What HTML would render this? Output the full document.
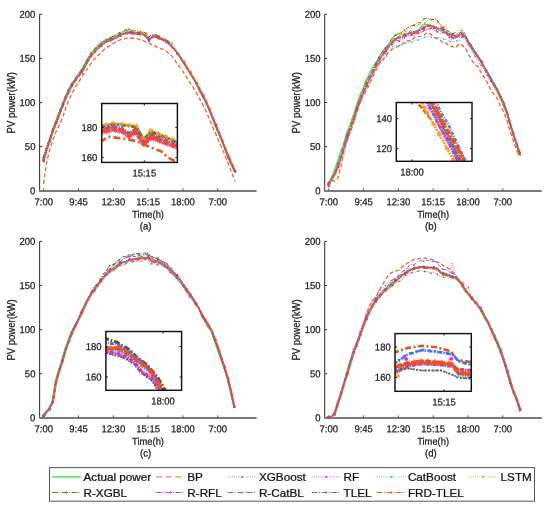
<!DOCTYPE html><html><head><meta charset="utf-8"><style>html,body{margin:0;padding:0;background:#fff;overflow:hidden;width:550px;height:508px;}svg{display:block;font-family:"Liberation Sans",sans-serif;}</style></head><body>
<svg width="550" height="508" viewBox="0 0 550 508" style="will-change:transform">
<rect width="550" height="508" fill="#fff"/>
<line x1="39.6" y1="14.3" x2="39.6" y2="190.8" stroke="#333" stroke-width="1.05"/>
<line x1="39.1" y1="190.9" x2="256.6" y2="190.9" stroke="#7a7a7a" stroke-width="2"/>
<text x="0" y="0" font-size="9.99" text-anchor="end" fill="#1a1a1a" stroke="#1a1a1a" stroke-width="0.25" transform="translate(35.40,194.25) scale(0.95,1) rotate(0.05)">0</text>
<line x1="39.6" y1="146.68" x2="42.0" y2="146.68" stroke="#333" stroke-width="1"/>
<text x="0" y="0" font-size="9.99" text-anchor="end" fill="#1a1a1a" stroke="#1a1a1a" stroke-width="0.25" transform="translate(35.40,150.12) scale(0.95,1) rotate(0.05)">50</text>
<line x1="39.6" y1="102.55" x2="42.0" y2="102.55" stroke="#333" stroke-width="1"/>
<text x="0" y="0" font-size="9.99" text-anchor="end" fill="#1a1a1a" stroke="#1a1a1a" stroke-width="0.25" transform="translate(35.40,106.00) scale(0.95,1) rotate(0.05)">100</text>
<line x1="39.6" y1="58.43" x2="42.0" y2="58.43" stroke="#333" stroke-width="1"/>
<text x="0" y="0" font-size="9.99" text-anchor="end" fill="#1a1a1a" stroke="#1a1a1a" stroke-width="0.25" transform="translate(35.40,61.88) scale(0.95,1) rotate(0.05)">150</text>
<line x1="39.6" y1="14.30" x2="42.0" y2="14.30" stroke="#333" stroke-width="1"/>
<text x="0" y="0" font-size="9.99" text-anchor="end" fill="#1a1a1a" stroke="#1a1a1a" stroke-width="0.25" transform="translate(35.40,17.75) scale(0.95,1) rotate(0.05)">200</text>
<line x1="43.70" y1="190.8" x2="43.70" y2="188.3" stroke="#555" stroke-width="1"/>
<text x="0" y="0" font-size="9.99" text-anchor="middle" fill="#1a1a1a" stroke="#1a1a1a" stroke-width="0.25" transform="translate(43.70,205.20) scale(0.95,1) rotate(0.05)">7:00</text>
<line x1="78.50" y1="190.8" x2="78.50" y2="188.3" stroke="#555" stroke-width="1"/>
<text x="0" y="0" font-size="9.99" text-anchor="middle" fill="#1a1a1a" stroke="#1a1a1a" stroke-width="0.25" transform="translate(78.50,205.20) scale(0.95,1) rotate(0.05)">9:45</text>
<line x1="113.30" y1="190.8" x2="113.30" y2="188.3" stroke="#555" stroke-width="1"/>
<text x="0" y="0" font-size="9.99" text-anchor="middle" fill="#1a1a1a" stroke="#1a1a1a" stroke-width="0.25" transform="translate(113.30,205.20) scale(0.95,1) rotate(0.05)">12:30</text>
<line x1="148.10" y1="190.8" x2="148.10" y2="188.3" stroke="#555" stroke-width="1"/>
<text x="0" y="0" font-size="9.99" text-anchor="middle" fill="#1a1a1a" stroke="#1a1a1a" stroke-width="0.25" transform="translate(148.10,205.20) scale(0.95,1) rotate(0.05)">15:15</text>
<line x1="182.90" y1="190.8" x2="182.90" y2="188.3" stroke="#555" stroke-width="1"/>
<text x="0" y="0" font-size="9.99" text-anchor="middle" fill="#1a1a1a" stroke="#1a1a1a" stroke-width="0.25" transform="translate(182.90,205.20) scale(0.95,1) rotate(0.05)">18:00</text>
<line x1="217.70" y1="190.8" x2="217.70" y2="188.3" stroke="#555" stroke-width="1"/>
<text x="0" y="0" font-size="9.99" text-anchor="middle" fill="#1a1a1a" stroke="#1a1a1a" stroke-width="0.25" transform="translate(217.70,205.20) scale(0.95,1) rotate(0.05)">7:00</text>
<text x="0" y="0" font-size="9.89" text-anchor="middle" fill="#1a1a1a" stroke="#1a1a1a" stroke-width="0.25" transform="translate(148.00,217.70) scale(0.95,1) rotate(0.05)">Time(h)</text>
<text x="0" y="0" font-size="10.09" text-anchor="middle" fill="#1a1a1a" stroke="#1a1a1a" stroke-width="0.25" transform="translate(145.70,229.50) scale(0.95,1) rotate(0.05)">(a)</text>
<text x="0" y="0" font-size="10.0" text-anchor="middle" fill="#1a1a1a" stroke="#1a1a1a" stroke-width="0.25" transform="translate(14.6,102.8) rotate(-90) scale(0.95,1)">PV power(kW)</text>
<polyline points="42.80,160.99 45.99,150.19 49.18,140.08 52.38,129.82 55.57,122.19 58.76,113.68 61.95,105.71 65.14,98.35 68.33,89.60 71.52,83.49 74.72,79.79 77.91,75.56 81.10,71.38 84.29,64.78 87.48,59.07 90.67,54.92 93.87,49.59 97.06,46.88 100.25,42.94 103.44,41.01 106.63,38.90 109.83,38.64 113.02,36.53 116.21,36.06 119.40,34.50 122.59,33.09 125.78,30.38 128.98,31.22 132.17,31.81 135.36,32.63 138.55,32.73 141.74,32.50 144.93,34.64 148.12,38.77 151.32,36.88 154.51,35.18 157.70,36.88 160.89,38.95 164.08,39.59 167.28,42.05 170.47,44.92 173.66,48.69 176.85,52.19 180.04,57.56 183.23,63.23 186.43,66.22 189.62,73.11 192.81,78.03 196.00,83.17 199.19,90.91 202.38,96.24 205.58,101.50 208.77,109.62 211.96,117.57 215.15,124.73 218.34,133.22 221.53,140.70 224.73,149.37 227.92,158.28 231.11,164.54 234.30,171.64" fill="none" stroke="#4ce64c" stroke-width="1.3" stroke-linejoin="round"/>
<polyline points="43.50,183.81 46.69,162.09 49.88,149.65 53.08,139.66 56.27,131.15 59.46,124.73 62.65,117.46 65.84,107.59 69.03,99.42 72.22,93.50 75.42,86.81 78.61,82.13 81.80,76.97 84.99,72.40 88.18,67.50 91.38,62.88 94.57,59.01 97.76,55.62 100.95,53.19 104.14,49.57 107.33,47.17 110.53,45.22 113.72,43.02 116.91,41.33 120.10,39.76 123.29,39.12 126.48,38.08 129.68,38.28 132.87,38.20 136.06,38.45 139.25,39.46 142.44,40.00 145.63,42.05 148.82,43.19 152.02,44.99 155.21,45.86 158.40,48.14 161.59,48.82 164.78,50.21 167.98,52.84 171.17,55.31 174.36,59.17 177.55,64.59 180.74,68.14 183.93,72.99 187.12,78.18 190.32,83.24 193.51,87.96 196.70,93.22 199.89,99.34 203.08,105.48 206.28,111.61 209.47,119.43 212.66,127.15 215.85,134.13 219.04,141.85 222.23,148.63 225.43,156.85 228.62,164.48 231.81,172.79 235.00,181.15" fill="none" stroke="#ec6a30" stroke-width="1.35" stroke-dasharray="4 2.4" stroke-linejoin="round"/>
<polyline points="44.00,160.92 47.19,148.67 50.38,139.63 53.58,130.91 56.77,121.30 59.96,115.31 63.15,104.86 66.34,98.41 69.53,89.88 72.72,85.04 75.92,80.16 79.11,74.91 82.30,72.90 85.49,67.20 88.68,59.84 91.88,55.08 95.07,51.29 98.26,47.42 101.45,45.96 104.64,42.48 107.83,41.12 111.03,39.23 114.22,37.97 117.41,35.97 120.60,36.27 123.79,34.12 126.98,33.82 130.18,32.61 133.37,32.36 136.56,33.32 139.75,34.41 142.94,33.84 146.13,36.06 149.32,40.12 152.52,36.17 155.71,36.18 158.90,39.04 162.09,38.83 165.28,40.23 168.48,43.31 171.67,46.75 174.86,48.53 178.05,53.78 181.24,57.91 184.43,61.86 187.62,68.60 190.82,73.23 194.01,78.70 197.20,83.75 200.39,90.45 203.58,95.90 206.78,102.76 209.97,109.27 213.16,116.73 216.35,126.16 219.54,132.70 222.73,141.20 225.93,149.07 229.12,157.09 232.31,164.72 235.50,171.94" fill="none" stroke="#8a8a8a" stroke-width="1.0" stroke-dasharray="0.9 1.3" stroke-linejoin="round"/>
<circle cx="44.0" cy="160.9" r="0.8" fill="#555"/>
<circle cx="50.4" cy="139.6" r="0.8" fill="#555"/>
<circle cx="56.8" cy="121.3" r="0.8" fill="#555"/>
<circle cx="63.2" cy="104.9" r="0.8" fill="#555"/>
<circle cx="69.5" cy="89.9" r="0.8" fill="#555"/>
<circle cx="75.9" cy="80.2" r="0.8" fill="#555"/>
<circle cx="82.3" cy="72.9" r="0.8" fill="#555"/>
<circle cx="88.7" cy="59.8" r="0.8" fill="#555"/>
<circle cx="95.1" cy="51.3" r="0.8" fill="#555"/>
<circle cx="101.5" cy="46.0" r="0.8" fill="#555"/>
<circle cx="107.8" cy="41.1" r="0.8" fill="#555"/>
<circle cx="114.2" cy="38.0" r="0.8" fill="#555"/>
<circle cx="120.6" cy="36.3" r="0.8" fill="#555"/>
<circle cx="127.0" cy="33.8" r="0.8" fill="#555"/>
<circle cx="133.4" cy="32.4" r="0.8" fill="#555"/>
<circle cx="139.8" cy="34.4" r="0.8" fill="#555"/>
<circle cx="146.1" cy="36.1" r="0.8" fill="#555"/>
<circle cx="152.5" cy="36.2" r="0.8" fill="#555"/>
<circle cx="158.9" cy="39.0" r="0.8" fill="#555"/>
<circle cx="165.3" cy="40.2" r="0.8" fill="#555"/>
<circle cx="171.7" cy="46.7" r="0.8" fill="#555"/>
<circle cx="178.1" cy="53.8" r="0.8" fill="#555"/>
<circle cx="184.4" cy="61.9" r="0.8" fill="#555"/>
<circle cx="190.8" cy="73.2" r="0.8" fill="#555"/>
<circle cx="197.2" cy="83.8" r="0.8" fill="#555"/>
<circle cx="203.6" cy="95.9" r="0.8" fill="#555"/>
<circle cx="210.0" cy="109.3" r="0.8" fill="#555"/>
<circle cx="216.4" cy="126.2" r="0.8" fill="#555"/>
<circle cx="222.7" cy="141.2" r="0.8" fill="#555"/>
<circle cx="229.1" cy="157.1" r="0.8" fill="#555"/>
<circle cx="235.5" cy="171.9" r="0.8" fill="#555"/>
<polyline points="43.10,160.79 46.29,149.96 49.48,140.43 52.68,131.48 55.87,123.27 59.06,114.99 62.25,105.68 65.44,96.91 68.63,91.13 71.82,85.17 75.02,79.97 78.21,76.36 81.40,72.58 84.59,66.78 87.78,60.54 90.97,54.95 94.17,52.47 97.36,47.23 100.55,45.80 103.74,43.20 106.93,41.77 110.12,41.10 113.32,39.45 116.51,36.07 119.70,34.21 122.89,34.80 126.08,32.43 129.28,32.59 132.47,33.43 135.66,32.40 138.85,33.32 142.04,34.02 145.23,36.36 148.42,40.16 151.62,37.16 154.81,36.14 158.00,36.83 161.19,39.19 164.38,40.29 167.58,41.93 170.77,46.12 173.96,49.51 177.15,54.21 180.34,57.66 183.53,62.64 186.72,67.39 189.92,72.63 193.11,78.78 196.30,83.73 199.49,90.38 202.68,96.51 205.88,104.28 209.07,109.07 212.26,118.21 215.45,125.16 218.64,133.04 221.83,139.98 225.03,148.77 228.22,157.92 231.41,165.02 234.60,171.56" fill="none" stroke="#f03cf0" stroke-width="1.0" stroke-dasharray="0.9 1.3" stroke-linejoin="round"/>
<circle cx="43.1" cy="160.8" r="0.8" fill="#f020f0"/>
<circle cx="49.5" cy="140.4" r="0.8" fill="#f020f0"/>
<circle cx="55.9" cy="123.3" r="0.8" fill="#f020f0"/>
<circle cx="62.3" cy="105.7" r="0.8" fill="#f020f0"/>
<circle cx="68.6" cy="91.1" r="0.8" fill="#f020f0"/>
<circle cx="75.0" cy="80.0" r="0.8" fill="#f020f0"/>
<circle cx="81.4" cy="72.6" r="0.8" fill="#f020f0"/>
<circle cx="87.8" cy="60.5" r="0.8" fill="#f020f0"/>
<circle cx="94.2" cy="52.5" r="0.8" fill="#f020f0"/>
<circle cx="100.5" cy="45.8" r="0.8" fill="#f020f0"/>
<circle cx="106.9" cy="41.8" r="0.8" fill="#f020f0"/>
<circle cx="113.3" cy="39.4" r="0.8" fill="#f020f0"/>
<circle cx="119.7" cy="34.2" r="0.8" fill="#f020f0"/>
<circle cx="126.1" cy="32.4" r="0.8" fill="#f020f0"/>
<circle cx="132.5" cy="33.4" r="0.8" fill="#f020f0"/>
<circle cx="138.8" cy="33.3" r="0.8" fill="#f020f0"/>
<circle cx="145.2" cy="36.4" r="0.8" fill="#f020f0"/>
<circle cx="151.6" cy="37.2" r="0.8" fill="#f020f0"/>
<circle cx="158.0" cy="36.8" r="0.8" fill="#f020f0"/>
<circle cx="164.4" cy="40.3" r="0.8" fill="#f020f0"/>
<circle cx="170.8" cy="46.1" r="0.8" fill="#f020f0"/>
<circle cx="177.2" cy="54.2" r="0.8" fill="#f020f0"/>
<circle cx="183.5" cy="62.6" r="0.8" fill="#f020f0"/>
<circle cx="189.9" cy="72.6" r="0.8" fill="#f020f0"/>
<circle cx="196.3" cy="83.7" r="0.8" fill="#f020f0"/>
<circle cx="202.7" cy="96.5" r="0.8" fill="#f020f0"/>
<circle cx="209.1" cy="109.1" r="0.8" fill="#f020f0"/>
<circle cx="215.5" cy="125.2" r="0.8" fill="#f020f0"/>
<circle cx="221.8" cy="140.0" r="0.8" fill="#f020f0"/>
<circle cx="228.2" cy="157.9" r="0.8" fill="#f020f0"/>
<circle cx="234.6" cy="171.6" r="0.8" fill="#f020f0"/>
<polyline points="44.30,161.79 47.49,151.85 50.68,141.37 53.88,130.06 57.07,123.24 60.26,114.26 63.45,104.70 66.64,98.39 69.83,92.27 73.02,85.38 76.22,80.08 79.41,76.14 82.60,73.62 85.79,67.09 88.98,60.69 92.17,55.98 95.37,52.16 98.56,49.38 101.75,46.28 104.94,43.69 108.13,41.09 111.33,40.79 114.52,38.56 117.71,38.25 120.90,35.10 124.09,34.71 127.28,33.70 130.48,32.22 133.67,34.58 136.86,35.09 140.05,34.97 143.24,34.86 146.43,37.06 149.62,38.95 152.82,37.74 156.01,37.11 159.20,38.34 162.39,38.93 165.58,41.14 168.78,43.30 171.97,46.93 175.16,50.10 178.35,54.22 181.54,59.70 184.73,62.97 187.93,68.06 191.12,72.21 194.31,79.96 197.50,85.15 200.69,90.96 203.88,96.91 207.08,103.09 210.27,110.33 213.46,117.52 216.65,125.18 219.84,133.18 223.03,142.12 226.23,149.53 229.42,157.39 232.61,164.69 235.80,171.06" fill="none" stroke="#3cc0f0" stroke-width="1.0" stroke-dasharray="0.9 1.3" stroke-linejoin="round"/>
<circle cx="44.3" cy="161.8" r="0.8" fill="#20a8f0"/>
<circle cx="50.7" cy="141.4" r="0.8" fill="#20a8f0"/>
<circle cx="57.1" cy="123.2" r="0.8" fill="#20a8f0"/>
<circle cx="63.5" cy="104.7" r="0.8" fill="#20a8f0"/>
<circle cx="69.8" cy="92.3" r="0.8" fill="#20a8f0"/>
<circle cx="76.2" cy="80.1" r="0.8" fill="#20a8f0"/>
<circle cx="82.6" cy="73.6" r="0.8" fill="#20a8f0"/>
<circle cx="89.0" cy="60.7" r="0.8" fill="#20a8f0"/>
<circle cx="95.4" cy="52.2" r="0.8" fill="#20a8f0"/>
<circle cx="101.8" cy="46.3" r="0.8" fill="#20a8f0"/>
<circle cx="108.1" cy="41.1" r="0.8" fill="#20a8f0"/>
<circle cx="114.5" cy="38.6" r="0.8" fill="#20a8f0"/>
<circle cx="120.9" cy="35.1" r="0.8" fill="#20a8f0"/>
<circle cx="127.3" cy="33.7" r="0.8" fill="#20a8f0"/>
<circle cx="133.7" cy="34.6" r="0.8" fill="#20a8f0"/>
<circle cx="140.1" cy="35.0" r="0.8" fill="#20a8f0"/>
<circle cx="146.4" cy="37.1" r="0.8" fill="#20a8f0"/>
<circle cx="152.8" cy="37.7" r="0.8" fill="#20a8f0"/>
<circle cx="159.2" cy="38.3" r="0.8" fill="#20a8f0"/>
<circle cx="165.6" cy="41.1" r="0.8" fill="#20a8f0"/>
<circle cx="172.0" cy="46.9" r="0.8" fill="#20a8f0"/>
<circle cx="178.4" cy="54.2" r="0.8" fill="#20a8f0"/>
<circle cx="184.7" cy="63.0" r="0.8" fill="#20a8f0"/>
<circle cx="191.1" cy="72.2" r="0.8" fill="#20a8f0"/>
<circle cx="197.5" cy="85.2" r="0.8" fill="#20a8f0"/>
<circle cx="203.9" cy="96.9" r="0.8" fill="#20a8f0"/>
<circle cx="210.3" cy="110.3" r="0.8" fill="#20a8f0"/>
<circle cx="216.7" cy="125.2" r="0.8" fill="#20a8f0"/>
<circle cx="223.0" cy="142.1" r="0.8" fill="#20a8f0"/>
<circle cx="229.4" cy="157.4" r="0.8" fill="#20a8f0"/>
<circle cx="235.8" cy="171.1" r="0.8" fill="#20a8f0"/>
<polyline points="44.50,156.27 47.69,145.57 50.88,136.59 54.08,127.40 57.27,119.66 60.46,112.65 63.65,104.76 66.84,95.75 70.03,88.52 73.22,82.61 76.42,78.47 79.61,73.24 82.80,70.27 85.99,64.03 89.18,58.97 92.38,53.21 95.57,50.30 98.76,47.67 101.95,43.47 105.14,40.83 108.33,39.49 111.53,37.75 114.72,35.45 117.91,34.75 121.10,34.31 124.29,31.54 127.48,30.50 130.68,29.37 133.87,30.57 137.06,30.18 140.25,31.52 143.44,32.23 146.63,33.19 149.82,38.59 153.02,35.73 156.21,34.58 159.40,36.12 162.59,38.75 165.78,39.12 168.98,41.11 172.17,43.34 175.36,48.15 178.55,53.57 181.74,57.67 184.93,61.13 188.12,66.21 191.32,71.66 194.51,77.65 197.70,82.96 200.89,89.14 204.08,95.36 207.28,101.56 210.47,108.94 213.66,116.67 216.85,124.12 220.04,132.38 223.23,141.28 226.43,148.50 229.62,156.43 232.81,162.90 236.00,170.77" fill="none" stroke="#f0a020" stroke-width="1.0" stroke-dasharray="0.9 1.3" stroke-linejoin="round"/>
<circle cx="44.5" cy="156.3" r="0.9" fill="#f09010"/>
<circle cx="50.9" cy="136.6" r="0.9" fill="#f09010"/>
<circle cx="57.3" cy="119.7" r="0.9" fill="#f09010"/>
<circle cx="63.7" cy="104.8" r="0.9" fill="#f09010"/>
<circle cx="70.0" cy="88.5" r="0.9" fill="#f09010"/>
<circle cx="76.4" cy="78.5" r="0.9" fill="#f09010"/>
<circle cx="82.8" cy="70.3" r="0.9" fill="#f09010"/>
<circle cx="89.2" cy="59.0" r="0.9" fill="#f09010"/>
<circle cx="95.6" cy="50.3" r="0.9" fill="#f09010"/>
<circle cx="102.0" cy="43.5" r="0.9" fill="#f09010"/>
<circle cx="108.3" cy="39.5" r="0.9" fill="#f09010"/>
<circle cx="114.7" cy="35.4" r="0.9" fill="#f09010"/>
<circle cx="121.1" cy="34.3" r="0.9" fill="#f09010"/>
<circle cx="127.5" cy="30.5" r="0.9" fill="#f09010"/>
<circle cx="133.9" cy="30.6" r="0.9" fill="#f09010"/>
<circle cx="140.2" cy="31.5" r="0.9" fill="#f09010"/>
<circle cx="146.6" cy="33.2" r="0.9" fill="#f09010"/>
<circle cx="153.0" cy="35.7" r="0.9" fill="#f09010"/>
<circle cx="159.4" cy="36.1" r="0.9" fill="#f09010"/>
<circle cx="165.8" cy="39.1" r="0.9" fill="#f09010"/>
<circle cx="172.2" cy="43.3" r="0.9" fill="#f09010"/>
<circle cx="178.6" cy="53.6" r="0.9" fill="#f09010"/>
<circle cx="184.9" cy="61.1" r="0.9" fill="#f09010"/>
<circle cx="191.3" cy="71.7" r="0.9" fill="#f09010"/>
<circle cx="197.7" cy="83.0" r="0.9" fill="#f09010"/>
<circle cx="204.1" cy="95.4" r="0.9" fill="#f09010"/>
<circle cx="210.5" cy="108.9" r="0.9" fill="#f09010"/>
<circle cx="216.9" cy="124.1" r="0.9" fill="#f09010"/>
<circle cx="223.2" cy="141.3" r="0.9" fill="#f09010"/>
<circle cx="229.6" cy="156.4" r="0.9" fill="#f09010"/>
<circle cx="236.0" cy="170.8" r="0.9" fill="#f09010"/>
<polyline points="43.00,157.65 46.19,147.17 49.38,139.18 52.58,129.37 55.77,120.96 58.96,111.85 62.15,104.18 65.34,95.79 68.53,89.33 71.72,84.52 74.92,78.68 78.11,73.91 81.30,69.69 84.49,64.65 87.68,58.26 90.88,52.97 94.07,49.99 97.26,45.80 100.45,44.47 103.64,41.99 106.83,40.11 110.03,37.42 113.22,36.50 116.41,34.34 119.60,32.62 122.79,31.49 125.98,29.73 129.18,29.09 132.37,30.90 135.56,30.92 138.75,32.45 141.94,32.04 145.13,32.61 148.32,37.29 151.52,34.78 154.71,34.67 157.90,35.47 161.09,38.10 164.28,39.40 167.48,40.67 170.67,43.63 173.86,48.68 177.05,52.86 180.24,55.67 183.43,62.73 186.62,67.23 189.82,72.95 193.01,77.17 196.20,82.90 199.39,88.20 202.58,96.93 205.78,101.64 208.97,110.08 212.16,116.07 215.35,124.29 218.54,130.85 221.73,139.71 224.93,148.77 228.12,155.52 231.31,164.83 234.50,170.74" fill="none" stroke="#6a6a2a" stroke-width="1.0" stroke-dasharray="3.5 1.3 1 1.3" stroke-linejoin="round"/>
<circle cx="43.0" cy="157.7" r="0.7" fill="#5a5a20"/>
<circle cx="52.6" cy="129.4" r="0.7" fill="#5a5a20"/>
<circle cx="62.2" cy="104.2" r="0.7" fill="#5a5a20"/>
<circle cx="71.7" cy="84.5" r="0.7" fill="#5a5a20"/>
<circle cx="81.3" cy="69.7" r="0.7" fill="#5a5a20"/>
<circle cx="90.9" cy="53.0" r="0.7" fill="#5a5a20"/>
<circle cx="100.5" cy="44.5" r="0.7" fill="#5a5a20"/>
<circle cx="110.0" cy="37.4" r="0.7" fill="#5a5a20"/>
<circle cx="119.6" cy="32.6" r="0.7" fill="#5a5a20"/>
<circle cx="129.2" cy="29.1" r="0.7" fill="#5a5a20"/>
<circle cx="138.8" cy="32.5" r="0.7" fill="#5a5a20"/>
<circle cx="148.3" cy="37.3" r="0.7" fill="#5a5a20"/>
<circle cx="157.9" cy="35.5" r="0.7" fill="#5a5a20"/>
<circle cx="167.5" cy="40.7" r="0.7" fill="#5a5a20"/>
<circle cx="177.1" cy="52.9" r="0.7" fill="#5a5a20"/>
<circle cx="186.6" cy="67.2" r="0.7" fill="#5a5a20"/>
<circle cx="196.2" cy="82.9" r="0.7" fill="#5a5a20"/>
<circle cx="205.8" cy="101.6" r="0.7" fill="#5a5a20"/>
<circle cx="215.4" cy="124.3" r="0.7" fill="#5a5a20"/>
<circle cx="224.9" cy="148.8" r="0.7" fill="#5a5a20"/>
<circle cx="234.5" cy="170.7" r="0.7" fill="#5a5a20"/>
<polyline points="43.80,160.27 46.99,149.71 50.18,140.10 53.38,130.62 56.57,122.42 59.76,114.14 62.95,105.87 66.14,97.16 69.33,89.57 72.52,84.46 75.72,80.69 78.91,74.91 82.10,72.03 85.29,65.74 88.48,59.21 91.67,55.87 94.87,51.04 98.06,49.15 101.25,44.65 104.44,43.13 107.63,41.00 110.83,39.26 114.02,38.82 117.21,36.76 120.40,35.82 123.59,34.19 126.78,32.38 129.98,32.53 133.17,32.88 136.36,34.22 139.55,34.17 142.74,33.81 145.93,35.12 149.12,40.79 152.32,36.38 155.51,35.48 158.70,37.85 161.89,40.08 165.08,39.90 168.28,42.32 171.47,45.24 174.66,48.76 177.85,54.19 181.04,57.79 184.23,62.59 187.43,68.49 190.62,72.72 193.81,78.95 197.00,83.60 200.19,89.28 203.38,94.99 206.58,104.17 209.77,109.82 212.96,117.76 216.15,125.20 219.34,133.17 222.53,141.03 225.73,150.43 228.92,156.67 232.11,163.99 235.30,170.79" fill="none" stroke="#e02cb0" stroke-width="1.0" stroke-dasharray="3.5 1.3 1 1.3" stroke-linejoin="round"/>
<circle cx="43.8" cy="160.3" r="0.7" fill="#d81ca0"/>
<circle cx="53.4" cy="130.6" r="0.7" fill="#d81ca0"/>
<circle cx="63.0" cy="105.9" r="0.7" fill="#d81ca0"/>
<circle cx="72.5" cy="84.5" r="0.7" fill="#d81ca0"/>
<circle cx="82.1" cy="72.0" r="0.7" fill="#d81ca0"/>
<circle cx="91.7" cy="55.9" r="0.7" fill="#d81ca0"/>
<circle cx="101.2" cy="44.6" r="0.7" fill="#d81ca0"/>
<circle cx="110.8" cy="39.3" r="0.7" fill="#d81ca0"/>
<circle cx="120.4" cy="35.8" r="0.7" fill="#d81ca0"/>
<circle cx="130.0" cy="32.5" r="0.7" fill="#d81ca0"/>
<circle cx="139.6" cy="34.2" r="0.7" fill="#d81ca0"/>
<circle cx="149.1" cy="40.8" r="0.7" fill="#d81ca0"/>
<circle cx="158.7" cy="37.8" r="0.7" fill="#d81ca0"/>
<circle cx="168.3" cy="42.3" r="0.7" fill="#d81ca0"/>
<circle cx="177.9" cy="54.2" r="0.7" fill="#d81ca0"/>
<circle cx="187.4" cy="68.5" r="0.7" fill="#d81ca0"/>
<circle cx="197.0" cy="83.6" r="0.7" fill="#d81ca0"/>
<circle cx="206.6" cy="104.2" r="0.7" fill="#d81ca0"/>
<circle cx="216.2" cy="125.2" r="0.7" fill="#d81ca0"/>
<circle cx="225.7" cy="150.4" r="0.7" fill="#d81ca0"/>
<circle cx="235.3" cy="170.8" r="0.7" fill="#d81ca0"/>
<polyline points="42.90,160.07 46.09,150.59 49.28,140.99 52.48,129.98 55.67,121.82 58.86,114.47 62.05,107.05 65.24,95.90 68.43,90.84 71.62,83.74 74.82,80.80 78.01,75.23 81.20,71.83 84.39,65.14 87.58,59.21 90.78,56.24 93.97,51.98 97.16,47.82 100.35,44.58 103.54,41.53 106.73,40.88 109.93,39.77 113.12,38.35 116.31,36.80 119.50,34.61 122.69,34.18 125.88,33.11 129.08,33.50 132.27,34.15 135.46,33.45 138.65,34.26 141.84,33.79 145.03,35.90 148.22,39.81 151.42,37.09 154.61,36.01 157.80,38.31 160.99,39.23 164.18,41.14 167.38,42.95 170.57,45.26 173.76,48.89 176.95,53.76 180.14,57.97 183.33,63.26 186.53,68.08 189.72,72.30 192.91,78.69 196.10,83.34 199.29,89.70 202.48,96.07 205.68,101.41 208.87,110.11 212.06,117.69 215.25,125.11 218.44,132.76 221.63,140.73 224.83,148.41 228.02,157.21 231.21,164.69 234.40,171.56" fill="none" stroke="#4a7cf0" stroke-width="1.0" stroke-dasharray="3.5 1.3 1 1.3" stroke-linejoin="round"/>
<circle cx="42.9" cy="160.1" r="0.8" fill="#3a6cf0"/>
<circle cx="52.5" cy="130.0" r="0.8" fill="#3a6cf0"/>
<circle cx="62.1" cy="107.1" r="0.8" fill="#3a6cf0"/>
<circle cx="71.6" cy="83.7" r="0.8" fill="#3a6cf0"/>
<circle cx="81.2" cy="71.8" r="0.8" fill="#3a6cf0"/>
<circle cx="90.8" cy="56.2" r="0.8" fill="#3a6cf0"/>
<circle cx="100.4" cy="44.6" r="0.8" fill="#3a6cf0"/>
<circle cx="109.9" cy="39.8" r="0.8" fill="#3a6cf0"/>
<circle cx="119.5" cy="34.6" r="0.8" fill="#3a6cf0"/>
<circle cx="129.1" cy="33.5" r="0.8" fill="#3a6cf0"/>
<circle cx="138.7" cy="34.3" r="0.8" fill="#3a6cf0"/>
<circle cx="148.2" cy="39.8" r="0.8" fill="#3a6cf0"/>
<circle cx="157.8" cy="38.3" r="0.8" fill="#3a6cf0"/>
<circle cx="167.4" cy="42.9" r="0.8" fill="#3a6cf0"/>
<circle cx="177.0" cy="53.8" r="0.8" fill="#3a6cf0"/>
<circle cx="186.5" cy="68.1" r="0.8" fill="#3a6cf0"/>
<circle cx="196.1" cy="83.3" r="0.8" fill="#3a6cf0"/>
<circle cx="205.7" cy="101.4" r="0.8" fill="#3a6cf0"/>
<circle cx="215.3" cy="125.1" r="0.8" fill="#3a6cf0"/>
<circle cx="224.8" cy="148.4" r="0.8" fill="#3a6cf0"/>
<circle cx="234.4" cy="171.6" r="0.8" fill="#3a6cf0"/>
<polyline points="43.70,160.16 46.89,150.23 50.08,140.52 53.28,130.56 56.47,122.49 59.66,115.11 62.85,104.91 66.04,98.20 69.23,90.64 72.42,84.69 75.62,80.34 78.81,75.53 82.00,71.85 85.19,66.64 88.38,60.19 91.58,55.42 94.77,50.34 97.96,48.48 101.15,46.01 104.34,43.56 107.53,41.32 110.73,38.70 113.92,39.07 117.11,36.76 120.30,33.62 123.49,34.49 126.68,32.10 129.88,31.69 133.07,32.40 136.26,34.44 139.45,34.54 142.64,34.03 145.83,37.55 149.02,41.45 152.22,37.06 155.41,36.57 158.60,37.00 161.79,38.82 164.98,41.26 168.18,43.35 171.37,45.84 174.56,50.25 177.75,53.38 180.94,58.31 184.13,63.61 187.32,68.49 190.52,74.00 193.71,78.92 196.90,84.06 200.09,90.39 203.28,95.57 206.47,101.71 209.67,110.45 212.86,117.55 216.05,125.44 219.24,131.87 222.43,140.74 225.62,148.67 228.82,156.79 232.01,163.50 235.20,171.27" fill="none" stroke="#6a58e0" stroke-width="1.0" stroke-dasharray="3.5 1.3 1 1.3" stroke-linejoin="round"/>
<circle cx="43.7" cy="160.2" r="0.8" fill="#5a48d8"/>
<circle cx="53.3" cy="130.6" r="0.8" fill="#5a48d8"/>
<circle cx="62.9" cy="104.9" r="0.8" fill="#5a48d8"/>
<circle cx="72.4" cy="84.7" r="0.8" fill="#5a48d8"/>
<circle cx="82.0" cy="71.8" r="0.8" fill="#5a48d8"/>
<circle cx="91.6" cy="55.4" r="0.8" fill="#5a48d8"/>
<circle cx="101.2" cy="46.0" r="0.8" fill="#5a48d8"/>
<circle cx="110.7" cy="38.7" r="0.8" fill="#5a48d8"/>
<circle cx="120.3" cy="33.6" r="0.8" fill="#5a48d8"/>
<circle cx="129.9" cy="31.7" r="0.8" fill="#5a48d8"/>
<circle cx="139.4" cy="34.5" r="0.8" fill="#5a48d8"/>
<circle cx="149.0" cy="41.5" r="0.8" fill="#5a48d8"/>
<circle cx="158.6" cy="37.0" r="0.8" fill="#5a48d8"/>
<circle cx="168.2" cy="43.4" r="0.8" fill="#5a48d8"/>
<circle cx="177.8" cy="53.4" r="0.8" fill="#5a48d8"/>
<circle cx="187.3" cy="68.5" r="0.8" fill="#5a48d8"/>
<circle cx="196.9" cy="84.1" r="0.8" fill="#5a48d8"/>
<circle cx="206.5" cy="101.7" r="0.8" fill="#5a48d8"/>
<circle cx="216.1" cy="125.4" r="0.8" fill="#5a48d8"/>
<circle cx="225.6" cy="148.7" r="0.8" fill="#5a48d8"/>
<circle cx="235.2" cy="171.3" r="0.8" fill="#5a48d8"/>
<polyline points="43.50,161.63 46.69,150.33 49.88,140.00 53.08,130.65 56.27,123.32 59.46,112.79 62.65,105.99 65.84,98.26 69.03,90.95 72.22,85.69 75.42,80.87 78.61,76.20 81.80,72.24 84.99,66.74 88.18,59.51 91.38,55.25 94.57,52.04 97.76,49.47 100.95,45.08 104.14,42.82 107.33,41.30 110.53,40.73 113.72,38.39 116.91,37.90 120.10,34.72 123.29,34.09 126.48,33.00 129.68,33.15 132.87,33.58 136.06,32.49 139.25,34.16 142.44,34.07 145.63,35.87 148.82,39.27 152.02,37.86 155.21,37.09 158.40,38.23 161.59,38.97 164.78,41.69 167.98,42.91 171.17,46.53 174.36,48.91 177.55,53.32 180.74,58.50 183.93,62.61 187.12,68.56 190.32,73.43 193.51,78.00 196.70,84.33 199.89,89.89 203.08,96.92 206.28,102.42 209.47,109.73 212.66,118.43 215.85,126.79 219.04,134.45 222.23,141.04 225.43,149.25 228.62,158.47 231.81,164.99 235.00,170.82" fill="none" stroke="#ff4a12" stroke-width="1.6" stroke-dasharray="3.5 1.3 1 1.3" stroke-linejoin="round"/>
<circle cx="43.5" cy="161.6" r="0.9" fill="#ff4010"/>
<circle cx="53.1" cy="130.6" r="0.9" fill="#ff4010"/>
<circle cx="62.7" cy="106.0" r="0.9" fill="#ff4010"/>
<circle cx="72.2" cy="85.7" r="0.9" fill="#ff4010"/>
<circle cx="81.8" cy="72.2" r="0.9" fill="#ff4010"/>
<circle cx="91.4" cy="55.2" r="0.9" fill="#ff4010"/>
<circle cx="101.0" cy="45.1" r="0.9" fill="#ff4010"/>
<circle cx="110.5" cy="40.7" r="0.9" fill="#ff4010"/>
<circle cx="120.1" cy="34.7" r="0.9" fill="#ff4010"/>
<circle cx="129.7" cy="33.2" r="0.9" fill="#ff4010"/>
<circle cx="139.2" cy="34.2" r="0.9" fill="#ff4010"/>
<circle cx="148.8" cy="39.3" r="0.9" fill="#ff4010"/>
<circle cx="158.4" cy="38.2" r="0.9" fill="#ff4010"/>
<circle cx="168.0" cy="42.9" r="0.9" fill="#ff4010"/>
<circle cx="177.6" cy="53.3" r="0.9" fill="#ff4010"/>
<circle cx="187.1" cy="68.6" r="0.9" fill="#ff4010"/>
<circle cx="196.7" cy="84.3" r="0.9" fill="#ff4010"/>
<circle cx="206.3" cy="102.4" r="0.9" fill="#ff4010"/>
<circle cx="215.9" cy="126.8" r="0.9" fill="#ff4010"/>
<circle cx="225.4" cy="149.2" r="0.9" fill="#ff4010"/>
<circle cx="235.0" cy="170.8" r="0.9" fill="#ff4010"/>
<line x1="324.70000000000005" y1="14.3" x2="324.70000000000005" y2="190.8" stroke="#333" stroke-width="1.05"/>
<line x1="324.20000000000005" y1="190.9" x2="541.7" y2="190.9" stroke="#7a7a7a" stroke-width="2"/>
<text x="0" y="0" font-size="9.99" text-anchor="end" fill="#1a1a1a" stroke="#1a1a1a" stroke-width="0.25" transform="translate(320.50,194.25) scale(0.95,1) rotate(0.05)">0</text>
<line x1="324.70000000000005" y1="146.68" x2="327.1" y2="146.68" stroke="#333" stroke-width="1"/>
<text x="0" y="0" font-size="9.99" text-anchor="end" fill="#1a1a1a" stroke="#1a1a1a" stroke-width="0.25" transform="translate(320.50,150.12) scale(0.95,1) rotate(0.05)">50</text>
<line x1="324.70000000000005" y1="102.55" x2="327.1" y2="102.55" stroke="#333" stroke-width="1"/>
<text x="0" y="0" font-size="9.99" text-anchor="end" fill="#1a1a1a" stroke="#1a1a1a" stroke-width="0.25" transform="translate(320.50,106.00) scale(0.95,1) rotate(0.05)">100</text>
<line x1="324.70000000000005" y1="58.43" x2="327.1" y2="58.43" stroke="#333" stroke-width="1"/>
<text x="0" y="0" font-size="9.99" text-anchor="end" fill="#1a1a1a" stroke="#1a1a1a" stroke-width="0.25" transform="translate(320.50,61.88) scale(0.95,1) rotate(0.05)">150</text>
<line x1="324.70000000000005" y1="14.30" x2="327.1" y2="14.30" stroke="#333" stroke-width="1"/>
<text x="0" y="0" font-size="9.99" text-anchor="end" fill="#1a1a1a" stroke="#1a1a1a" stroke-width="0.25" transform="translate(320.50,17.75) scale(0.95,1) rotate(0.05)">200</text>
<line x1="328.80" y1="190.8" x2="328.80" y2="188.3" stroke="#555" stroke-width="1"/>
<text x="0" y="0" font-size="9.99" text-anchor="middle" fill="#1a1a1a" stroke="#1a1a1a" stroke-width="0.25" transform="translate(328.80,205.20) scale(0.95,1) rotate(0.05)">7:00</text>
<line x1="363.60" y1="190.8" x2="363.60" y2="188.3" stroke="#555" stroke-width="1"/>
<text x="0" y="0" font-size="9.99" text-anchor="middle" fill="#1a1a1a" stroke="#1a1a1a" stroke-width="0.25" transform="translate(363.60,205.20) scale(0.95,1) rotate(0.05)">9:45</text>
<line x1="398.40" y1="190.8" x2="398.40" y2="188.3" stroke="#555" stroke-width="1"/>
<text x="0" y="0" font-size="9.99" text-anchor="middle" fill="#1a1a1a" stroke="#1a1a1a" stroke-width="0.25" transform="translate(398.40,205.20) scale(0.95,1) rotate(0.05)">12:30</text>
<line x1="433.20" y1="190.8" x2="433.20" y2="188.3" stroke="#555" stroke-width="1"/>
<text x="0" y="0" font-size="9.99" text-anchor="middle" fill="#1a1a1a" stroke="#1a1a1a" stroke-width="0.25" transform="translate(433.20,205.20) scale(0.95,1) rotate(0.05)">15:15</text>
<line x1="468.00" y1="190.8" x2="468.00" y2="188.3" stroke="#555" stroke-width="1"/>
<text x="0" y="0" font-size="9.99" text-anchor="middle" fill="#1a1a1a" stroke="#1a1a1a" stroke-width="0.25" transform="translate(468.00,205.20) scale(0.95,1) rotate(0.05)">18:00</text>
<line x1="502.80" y1="190.8" x2="502.80" y2="188.3" stroke="#555" stroke-width="1"/>
<text x="0" y="0" font-size="9.99" text-anchor="middle" fill="#1a1a1a" stroke="#1a1a1a" stroke-width="0.25" transform="translate(502.80,205.20) scale(0.95,1) rotate(0.05)">7:00</text>
<text x="0" y="0" font-size="9.89" text-anchor="middle" fill="#1a1a1a" stroke="#1a1a1a" stroke-width="0.25" transform="translate(433.10,217.70) scale(0.95,1) rotate(0.05)">Time(h)</text>
<text x="0" y="0" font-size="10.09" text-anchor="middle" fill="#1a1a1a" stroke="#1a1a1a" stroke-width="0.25" transform="translate(430.80,229.50) scale(0.95,1) rotate(0.05)">(b)</text>
<text x="0" y="0" font-size="10.0" text-anchor="middle" fill="#1a1a1a" stroke="#1a1a1a" stroke-width="0.25" transform="translate(299.70000000000005,102.8) rotate(-90) scale(0.95,1)">PV power(kW)</text>
<polyline points="327.70,183.57 330.89,178.39 334.07,170.64 337.26,162.02 340.45,152.42 343.63,143.79 346.82,132.64 350.01,124.38 353.19,115.42 356.38,105.93 359.57,96.03 362.75,88.99 365.94,80.49 369.13,74.19 372.31,67.38 375.50,63.70 378.69,57.69 381.87,52.64 385.06,48.90 388.25,44.81 391.43,41.45 394.62,35.44 397.81,33.51 400.99,33.44 404.18,36.08 407.37,34.58 410.55,32.82 413.74,32.35 416.93,32.19 420.11,27.93 423.30,24.81 426.49,24.62 429.67,24.76 432.86,26.80 436.05,26.62 439.23,29.64 442.42,31.24 445.61,32.73 448.79,35.21 451.98,34.14 455.17,36.37 458.35,34.78 461.54,34.66 464.73,36.52 467.91,41.81 471.10,46.51 474.29,52.84 477.47,56.19 480.66,61.32 483.85,66.57 487.03,72.70 490.22,76.78 493.41,85.44 496.59,90.18 499.78,97.29 502.97,105.22 506.15,112.11 509.34,121.36 512.53,132.53 515.71,142.22 518.90,152.55" fill="none" stroke="#4ce64c" stroke-width="1.3" stroke-linejoin="round"/>
<polyline points="328.40,186.58 331.59,180.68 334.77,181.04 337.96,178.10 341.15,165.23 344.33,149.91 347.52,139.71 350.71,131.24 353.89,121.67 357.08,111.84 360.27,101.93 363.45,95.70 366.64,90.20 369.83,83.47 373.01,76.47 376.20,70.06 379.39,63.61 382.57,60.90 385.76,55.39 388.95,51.94 392.13,49.29 395.32,48.12 398.51,45.98 401.69,44.52 404.88,41.75 408.07,40.59 411.25,41.12 414.44,37.49 417.63,36.57 420.81,36.39 424.00,35.21 427.19,32.57 430.37,33.95 433.56,36.83 436.75,38.58 439.93,39.88 443.12,42.88 446.31,43.31 449.49,46.18 452.68,46.53 455.87,47.73 459.05,43.82 462.24,45.40 465.43,47.77 468.61,54.73 471.80,60.09 474.99,64.98 478.17,66.62 481.36,73.45 484.55,77.97 487.73,83.51 490.92,90.36 494.11,94.32 497.29,98.57 500.48,106.07 503.67,111.66 506.85,120.20 510.04,130.89 513.23,139.96 516.41,149.70 519.60,156.10" fill="none" stroke="#ec6a30" stroke-width="1.35" stroke-dasharray="4 2.4" stroke-linejoin="round"/>
<polyline points="328.90,183.13 332.09,178.81 335.27,172.48 338.46,164.68 341.65,156.70 344.83,145.47 348.02,134.64 351.21,128.43 354.39,118.60 357.58,109.30 360.77,100.16 363.95,92.94 367.14,85.22 370.33,79.44 373.51,72.29 376.70,66.37 379.89,61.13 383.07,54.78 386.26,51.66 389.45,47.32 392.63,44.03 395.82,40.17 399.01,41.21 402.19,38.52 405.38,36.11 408.57,34.55 411.75,34.94 414.94,34.58 418.13,33.61 421.31,33.02 424.50,30.24 427.69,29.68 430.87,28.57 434.06,30.31 437.25,31.90 440.43,33.98 443.62,32.30 446.81,35.03 449.99,36.78 453.18,39.35 456.37,37.24 459.55,36.81 462.74,36.36 465.93,36.97 469.11,43.03 472.30,49.22 475.49,52.08 478.67,56.87 481.86,62.42 485.05,68.28 488.23,73.74 491.42,78.04 494.61,84.60 497.79,91.23 500.98,97.25 504.17,103.73 507.35,111.57 510.54,123.75 513.73,132.94 516.91,142.32 520.10,152.29" fill="none" stroke="#8a8a8a" stroke-width="1.0" stroke-dasharray="0.9 1.3" stroke-linejoin="round"/>
<circle cx="328.9" cy="183.1" r="0.8" fill="#555"/>
<circle cx="335.3" cy="172.5" r="0.8" fill="#555"/>
<circle cx="341.6" cy="156.7" r="0.8" fill="#555"/>
<circle cx="348.0" cy="134.6" r="0.8" fill="#555"/>
<circle cx="354.4" cy="118.6" r="0.8" fill="#555"/>
<circle cx="360.8" cy="100.2" r="0.8" fill="#555"/>
<circle cx="367.1" cy="85.2" r="0.8" fill="#555"/>
<circle cx="373.5" cy="72.3" r="0.8" fill="#555"/>
<circle cx="379.9" cy="61.1" r="0.8" fill="#555"/>
<circle cx="386.3" cy="51.7" r="0.8" fill="#555"/>
<circle cx="392.6" cy="44.0" r="0.8" fill="#555"/>
<circle cx="399.0" cy="41.2" r="0.8" fill="#555"/>
<circle cx="405.4" cy="36.1" r="0.8" fill="#555"/>
<circle cx="411.8" cy="34.9" r="0.8" fill="#555"/>
<circle cx="418.1" cy="33.6" r="0.8" fill="#555"/>
<circle cx="424.5" cy="30.2" r="0.8" fill="#555"/>
<circle cx="430.9" cy="28.6" r="0.8" fill="#555"/>
<circle cx="437.2" cy="31.9" r="0.8" fill="#555"/>
<circle cx="443.6" cy="32.3" r="0.8" fill="#555"/>
<circle cx="450.0" cy="36.8" r="0.8" fill="#555"/>
<circle cx="456.4" cy="37.2" r="0.8" fill="#555"/>
<circle cx="462.7" cy="36.4" r="0.8" fill="#555"/>
<circle cx="469.1" cy="43.0" r="0.8" fill="#555"/>
<circle cx="475.5" cy="52.1" r="0.8" fill="#555"/>
<circle cx="481.9" cy="62.4" r="0.8" fill="#555"/>
<circle cx="488.2" cy="73.7" r="0.8" fill="#555"/>
<circle cx="494.6" cy="84.6" r="0.8" fill="#555"/>
<circle cx="501.0" cy="97.3" r="0.8" fill="#555"/>
<circle cx="507.4" cy="111.6" r="0.8" fill="#555"/>
<circle cx="513.7" cy="132.9" r="0.8" fill="#555"/>
<circle cx="520.1" cy="152.3" r="0.8" fill="#555"/>
<polyline points="328.00,185.81 331.19,179.73 334.37,174.42 337.56,165.44 340.75,157.28 343.93,145.65 347.12,136.45 350.31,130.22 353.49,119.58 356.68,108.73 359.87,100.20 363.05,92.88 366.24,86.48 369.43,78.10 372.61,70.54 375.80,65.96 378.99,60.96 382.17,56.35 385.36,53.15 388.55,47.97 391.73,44.68 394.92,40.49 398.11,40.58 401.29,40.34 404.48,37.90 407.67,36.28 410.85,35.24 414.04,36.11 417.23,33.19 420.41,32.54 423.60,30.86 426.79,29.42 429.97,28.36 433.16,30.13 436.35,30.28 439.53,31.37 442.72,32.84 445.91,34.36 449.09,37.65 452.28,39.73 455.47,37.80 458.65,37.51 461.84,37.54 465.03,37.50 468.21,44.73 471.40,49.41 474.59,55.75 477.77,61.03 480.96,65.41 484.15,68.75 487.33,75.37 490.52,80.52 493.71,85.85 496.89,92.61 500.08,96.22 503.27,105.33 506.45,112.82 509.64,124.85 512.83,133.92 516.01,142.93 519.20,153.28" fill="none" stroke="#f03cf0" stroke-width="1.0" stroke-dasharray="0.9 1.3" stroke-linejoin="round"/>
<circle cx="328.0" cy="185.8" r="0.8" fill="#f020f0"/>
<circle cx="334.4" cy="174.4" r="0.8" fill="#f020f0"/>
<circle cx="340.7" cy="157.3" r="0.8" fill="#f020f0"/>
<circle cx="347.1" cy="136.4" r="0.8" fill="#f020f0"/>
<circle cx="353.5" cy="119.6" r="0.8" fill="#f020f0"/>
<circle cx="359.9" cy="100.2" r="0.8" fill="#f020f0"/>
<circle cx="366.2" cy="86.5" r="0.8" fill="#f020f0"/>
<circle cx="372.6" cy="70.5" r="0.8" fill="#f020f0"/>
<circle cx="379.0" cy="61.0" r="0.8" fill="#f020f0"/>
<circle cx="385.4" cy="53.1" r="0.8" fill="#f020f0"/>
<circle cx="391.7" cy="44.7" r="0.8" fill="#f020f0"/>
<circle cx="398.1" cy="40.6" r="0.8" fill="#f020f0"/>
<circle cx="404.5" cy="37.9" r="0.8" fill="#f020f0"/>
<circle cx="410.9" cy="35.2" r="0.8" fill="#f020f0"/>
<circle cx="417.2" cy="33.2" r="0.8" fill="#f020f0"/>
<circle cx="423.6" cy="30.9" r="0.8" fill="#f020f0"/>
<circle cx="430.0" cy="28.4" r="0.8" fill="#f020f0"/>
<circle cx="436.3" cy="30.3" r="0.8" fill="#f020f0"/>
<circle cx="442.7" cy="32.8" r="0.8" fill="#f020f0"/>
<circle cx="449.1" cy="37.6" r="0.8" fill="#f020f0"/>
<circle cx="455.5" cy="37.8" r="0.8" fill="#f020f0"/>
<circle cx="461.8" cy="37.5" r="0.8" fill="#f020f0"/>
<circle cx="468.2" cy="44.7" r="0.8" fill="#f020f0"/>
<circle cx="474.6" cy="55.7" r="0.8" fill="#f020f0"/>
<circle cx="481.0" cy="65.4" r="0.8" fill="#f020f0"/>
<circle cx="487.3" cy="75.4" r="0.8" fill="#f020f0"/>
<circle cx="493.7" cy="85.9" r="0.8" fill="#f020f0"/>
<circle cx="500.1" cy="96.2" r="0.8" fill="#f020f0"/>
<circle cx="506.5" cy="112.8" r="0.8" fill="#f020f0"/>
<circle cx="512.8" cy="133.9" r="0.8" fill="#f020f0"/>
<circle cx="519.2" cy="153.3" r="0.8" fill="#f020f0"/>
<polyline points="329.20,186.16 332.39,180.47 335.57,174.65 338.76,166.20 341.95,155.29 345.13,147.79 348.32,138.02 351.51,128.97 354.69,119.86 357.88,111.10 361.07,100.93 364.25,93.12 367.44,86.52 370.63,81.03 373.81,72.43 377.00,69.01 380.19,62.34 383.37,57.59 386.56,55.85 389.75,50.83 392.93,46.52 396.12,45.40 399.31,45.57 402.49,45.27 405.68,43.16 408.87,42.85 412.05,41.99 415.24,39.92 418.43,40.12 421.61,38.36 424.80,37.19 427.99,36.26 431.17,37.19 434.36,38.37 437.55,37.88 440.73,37.50 443.92,39.21 447.11,39.71 450.29,41.47 453.48,42.05 456.67,40.76 459.85,41.07 463.04,37.27 466.23,40.06 469.41,44.97 472.60,52.57 475.79,56.65 478.97,57.48 482.16,62.92 485.35,69.69 488.53,75.52 491.72,81.17 494.91,85.79 498.09,91.75 501.28,98.17 504.47,104.56 507.65,114.14 510.84,122.02 514.03,134.94 517.21,143.38 520.40,154.86" fill="none" stroke="#3cc0f0" stroke-width="1.0" stroke-dasharray="0.9 1.3" stroke-linejoin="round"/>
<circle cx="329.2" cy="186.2" r="0.8" fill="#20a8f0"/>
<circle cx="335.6" cy="174.7" r="0.8" fill="#20a8f0"/>
<circle cx="341.9" cy="155.3" r="0.8" fill="#20a8f0"/>
<circle cx="348.3" cy="138.0" r="0.8" fill="#20a8f0"/>
<circle cx="354.7" cy="119.9" r="0.8" fill="#20a8f0"/>
<circle cx="361.1" cy="100.9" r="0.8" fill="#20a8f0"/>
<circle cx="367.4" cy="86.5" r="0.8" fill="#20a8f0"/>
<circle cx="373.8" cy="72.4" r="0.8" fill="#20a8f0"/>
<circle cx="380.2" cy="62.3" r="0.8" fill="#20a8f0"/>
<circle cx="386.6" cy="55.9" r="0.8" fill="#20a8f0"/>
<circle cx="392.9" cy="46.5" r="0.8" fill="#20a8f0"/>
<circle cx="399.3" cy="45.6" r="0.8" fill="#20a8f0"/>
<circle cx="405.7" cy="43.2" r="0.8" fill="#20a8f0"/>
<circle cx="412.1" cy="42.0" r="0.8" fill="#20a8f0"/>
<circle cx="418.4" cy="40.1" r="0.8" fill="#20a8f0"/>
<circle cx="424.8" cy="37.2" r="0.8" fill="#20a8f0"/>
<circle cx="431.2" cy="37.2" r="0.8" fill="#20a8f0"/>
<circle cx="437.5" cy="37.9" r="0.8" fill="#20a8f0"/>
<circle cx="443.9" cy="39.2" r="0.8" fill="#20a8f0"/>
<circle cx="450.3" cy="41.5" r="0.8" fill="#20a8f0"/>
<circle cx="456.7" cy="40.8" r="0.8" fill="#20a8f0"/>
<circle cx="463.0" cy="37.3" r="0.8" fill="#20a8f0"/>
<circle cx="469.4" cy="45.0" r="0.8" fill="#20a8f0"/>
<circle cx="475.8" cy="56.7" r="0.8" fill="#20a8f0"/>
<circle cx="482.2" cy="62.9" r="0.8" fill="#20a8f0"/>
<circle cx="488.5" cy="75.5" r="0.8" fill="#20a8f0"/>
<circle cx="494.9" cy="85.8" r="0.8" fill="#20a8f0"/>
<circle cx="501.3" cy="98.2" r="0.8" fill="#20a8f0"/>
<circle cx="507.7" cy="114.1" r="0.8" fill="#20a8f0"/>
<circle cx="514.0" cy="134.9" r="0.8" fill="#20a8f0"/>
<circle cx="520.4" cy="154.9" r="0.8" fill="#20a8f0"/>
<polyline points="329.40,184.29 332.59,178.62 335.77,173.48 338.96,164.70 342.15,155.14 345.33,144.18 348.52,135.82 351.71,127.54 354.89,118.77 358.08,107.85 361.27,99.84 364.45,91.05 367.64,83.58 370.83,77.12 374.01,70.93 377.20,63.56 380.39,58.16 383.57,53.32 386.76,49.00 389.95,43.59 393.13,41.33 396.32,37.31 399.51,35.86 402.69,32.47 405.88,31.23 409.07,28.99 412.25,25.72 415.44,26.16 418.63,24.47 421.81,25.29 425.00,22.92 428.19,19.71 431.37,19.93 434.56,21.75 437.75,22.54 440.93,24.17 444.12,26.63 447.31,28.66 450.49,33.56 453.68,34.12 456.87,36.69 460.05,35.01 463.24,34.48 466.43,36.70 469.61,43.47 472.80,47.98 475.99,52.27 479.17,57.33 482.36,61.30 485.55,67.84 488.73,76.11 491.92,79.64 495.11,86.72 498.29,90.56 501.48,98.45 504.67,105.07 507.85,113.98 511.04,125.46 514.23,136.90 517.41,145.47 520.60,155.11" fill="none" stroke="#f0a020" stroke-width="1.0" stroke-dasharray="0.9 1.3" stroke-linejoin="round"/>
<circle cx="329.4" cy="184.3" r="0.9" fill="#f09010"/>
<circle cx="335.8" cy="173.5" r="0.9" fill="#f09010"/>
<circle cx="342.1" cy="155.1" r="0.9" fill="#f09010"/>
<circle cx="348.5" cy="135.8" r="0.9" fill="#f09010"/>
<circle cx="354.9" cy="118.8" r="0.9" fill="#f09010"/>
<circle cx="361.3" cy="99.8" r="0.9" fill="#f09010"/>
<circle cx="367.6" cy="83.6" r="0.9" fill="#f09010"/>
<circle cx="374.0" cy="70.9" r="0.9" fill="#f09010"/>
<circle cx="380.4" cy="58.2" r="0.9" fill="#f09010"/>
<circle cx="386.8" cy="49.0" r="0.9" fill="#f09010"/>
<circle cx="393.1" cy="41.3" r="0.9" fill="#f09010"/>
<circle cx="399.5" cy="35.9" r="0.9" fill="#f09010"/>
<circle cx="405.9" cy="31.2" r="0.9" fill="#f09010"/>
<circle cx="412.3" cy="25.7" r="0.9" fill="#f09010"/>
<circle cx="418.6" cy="24.5" r="0.9" fill="#f09010"/>
<circle cx="425.0" cy="22.9" r="0.9" fill="#f09010"/>
<circle cx="431.4" cy="19.9" r="0.9" fill="#f09010"/>
<circle cx="437.7" cy="22.5" r="0.9" fill="#f09010"/>
<circle cx="444.1" cy="26.6" r="0.9" fill="#f09010"/>
<circle cx="450.5" cy="33.6" r="0.9" fill="#f09010"/>
<circle cx="456.9" cy="36.7" r="0.9" fill="#f09010"/>
<circle cx="463.2" cy="34.5" r="0.9" fill="#f09010"/>
<circle cx="469.6" cy="43.5" r="0.9" fill="#f09010"/>
<circle cx="476.0" cy="52.3" r="0.9" fill="#f09010"/>
<circle cx="482.4" cy="61.3" r="0.9" fill="#f09010"/>
<circle cx="488.7" cy="76.1" r="0.9" fill="#f09010"/>
<circle cx="495.1" cy="86.7" r="0.9" fill="#f09010"/>
<circle cx="501.5" cy="98.4" r="0.9" fill="#f09010"/>
<circle cx="507.9" cy="114.0" r="0.9" fill="#f09010"/>
<circle cx="514.2" cy="136.9" r="0.9" fill="#f09010"/>
<circle cx="520.6" cy="155.1" r="0.9" fill="#f09010"/>
<polyline points="327.90,183.62 331.09,179.94 334.27,172.91 337.46,166.24 340.65,155.87 343.83,147.08 347.02,133.95 350.21,126.69 353.39,118.47 356.58,107.45 359.77,97.93 362.95,90.50 366.14,82.08 369.33,76.33 372.51,71.74 375.70,64.43 378.89,56.86 382.07,52.12 385.26,47.96 388.45,44.50 391.63,38.51 394.82,35.51 398.01,34.67 401.19,32.84 404.38,30.04 407.57,27.74 410.75,25.85 413.94,25.21 417.13,22.44 420.31,23.01 423.50,19.13 426.69,18.05 429.87,19.03 433.06,19.43 436.25,19.13 439.43,23.47 442.62,27.64 445.81,29.39 448.99,31.79 452.18,34.04 455.37,32.60 458.55,34.57 461.74,30.46 464.93,33.36 468.11,40.42 471.30,46.47 474.49,51.40 477.67,55.94 480.86,60.36 484.05,67.17 487.23,70.22 490.42,78.09 493.61,83.03 496.79,89.50 499.98,96.01 503.17,102.22 506.35,111.21 509.54,123.47 512.73,133.50 515.91,142.62 519.10,154.83" fill="none" stroke="#6a6a2a" stroke-width="1.0" stroke-dasharray="3.5 1.3 1 1.3" stroke-linejoin="round"/>
<circle cx="327.9" cy="183.6" r="0.7" fill="#5a5a20"/>
<circle cx="337.5" cy="166.2" r="0.7" fill="#5a5a20"/>
<circle cx="347.0" cy="134.0" r="0.7" fill="#5a5a20"/>
<circle cx="356.6" cy="107.4" r="0.7" fill="#5a5a20"/>
<circle cx="366.1" cy="82.1" r="0.7" fill="#5a5a20"/>
<circle cx="375.7" cy="64.4" r="0.7" fill="#5a5a20"/>
<circle cx="385.3" cy="48.0" r="0.7" fill="#5a5a20"/>
<circle cx="394.8" cy="35.5" r="0.7" fill="#5a5a20"/>
<circle cx="404.4" cy="30.0" r="0.7" fill="#5a5a20"/>
<circle cx="413.9" cy="25.2" r="0.7" fill="#5a5a20"/>
<circle cx="423.5" cy="19.1" r="0.7" fill="#5a5a20"/>
<circle cx="433.1" cy="19.4" r="0.7" fill="#5a5a20"/>
<circle cx="442.6" cy="27.6" r="0.7" fill="#5a5a20"/>
<circle cx="452.2" cy="34.0" r="0.7" fill="#5a5a20"/>
<circle cx="461.7" cy="30.5" r="0.7" fill="#5a5a20"/>
<circle cx="471.3" cy="46.5" r="0.7" fill="#5a5a20"/>
<circle cx="480.9" cy="60.4" r="0.7" fill="#5a5a20"/>
<circle cx="490.4" cy="78.1" r="0.7" fill="#5a5a20"/>
<circle cx="500.0" cy="96.0" r="0.7" fill="#5a5a20"/>
<circle cx="509.5" cy="123.5" r="0.7" fill="#5a5a20"/>
<circle cx="519.1" cy="154.8" r="0.7" fill="#5a5a20"/>
<polyline points="328.70,186.58 331.89,178.10 335.07,173.43 338.26,167.82 341.45,156.73 344.63,145.89 347.82,135.80 351.01,126.81 354.19,117.92 357.38,107.82 360.57,99.99 363.75,91.18 366.94,83.87 370.13,76.25 373.31,70.78 376.50,64.04 379.69,59.34 382.87,55.68 386.06,50.70 389.25,46.48 392.43,42.54 395.62,39.74 398.81,37.82 401.99,36.25 405.18,35.89 408.37,33.01 411.55,34.18 414.74,32.33 417.93,31.08 421.11,29.86 424.30,27.44 427.49,26.45 430.67,25.63 433.86,28.38 437.05,27.33 440.23,26.73 443.42,29.82 446.61,31.12 449.79,35.19 452.98,37.49 456.17,36.89 459.35,34.20 462.54,33.98 465.73,37.85 468.91,42.70 472.10,48.30 475.29,53.68 478.47,59.25 481.66,62.94 484.85,67.36 488.03,73.43 491.22,79.49 494.41,83.86 497.59,89.05 500.78,96.38 503.97,102.61 507.15,112.05 510.34,123.07 513.53,135.45 516.71,142.54 519.90,152.89" fill="none" stroke="#e02cb0" stroke-width="1.0" stroke-dasharray="3.5 1.3 1 1.3" stroke-linejoin="round"/>
<circle cx="328.7" cy="186.6" r="0.7" fill="#d81ca0"/>
<circle cx="338.3" cy="167.8" r="0.7" fill="#d81ca0"/>
<circle cx="347.8" cy="135.8" r="0.7" fill="#d81ca0"/>
<circle cx="357.4" cy="107.8" r="0.7" fill="#d81ca0"/>
<circle cx="366.9" cy="83.9" r="0.7" fill="#d81ca0"/>
<circle cx="376.5" cy="64.0" r="0.7" fill="#d81ca0"/>
<circle cx="386.1" cy="50.7" r="0.7" fill="#d81ca0"/>
<circle cx="395.6" cy="39.7" r="0.7" fill="#d81ca0"/>
<circle cx="405.2" cy="35.9" r="0.7" fill="#d81ca0"/>
<circle cx="414.7" cy="32.3" r="0.7" fill="#d81ca0"/>
<circle cx="424.3" cy="27.4" r="0.7" fill="#d81ca0"/>
<circle cx="433.9" cy="28.4" r="0.7" fill="#d81ca0"/>
<circle cx="443.4" cy="29.8" r="0.7" fill="#d81ca0"/>
<circle cx="453.0" cy="37.5" r="0.7" fill="#d81ca0"/>
<circle cx="462.5" cy="34.0" r="0.7" fill="#d81ca0"/>
<circle cx="472.1" cy="48.3" r="0.7" fill="#d81ca0"/>
<circle cx="481.7" cy="62.9" r="0.7" fill="#d81ca0"/>
<circle cx="491.2" cy="79.5" r="0.7" fill="#d81ca0"/>
<circle cx="500.8" cy="96.4" r="0.7" fill="#d81ca0"/>
<circle cx="510.3" cy="123.1" r="0.7" fill="#d81ca0"/>
<circle cx="519.9" cy="152.9" r="0.7" fill="#d81ca0"/>
<polyline points="327.80,184.35 330.99,179.81 334.17,174.10 337.36,165.11 340.55,155.26 343.73,144.18 346.92,135.11 350.11,127.72 353.29,118.08 356.48,107.31 359.67,98.87 362.85,91.44 366.04,84.57 369.23,76.62 372.41,70.40 375.60,62.98 378.79,58.21 381.97,55.90 385.16,48.08 388.35,45.36 391.53,42.02 394.72,38.91 397.91,36.73 401.09,35.96 404.28,34.65 407.47,33.32 410.65,30.64 413.84,31.48 417.03,30.25 420.21,29.03 423.40,27.43 426.59,26.01 429.77,26.16 432.96,25.93 436.15,27.83 439.33,28.70 442.52,30.26 445.71,32.79 448.89,33.57 452.08,34.70 455.27,35.24 458.45,32.26 461.64,32.88 464.83,33.77 468.01,40.08 471.20,44.73 474.39,49.94 477.57,55.04 480.76,60.61 483.95,66.19 487.13,71.12 490.32,76.89 493.51,81.83 496.69,88.59 499.88,94.40 503.07,102.37 506.25,112.14 509.44,121.52 512.63,130.68 515.81,141.35 519.00,150.66" fill="none" stroke="#4a7cf0" stroke-width="1.0" stroke-dasharray="3.5 1.3 1 1.3" stroke-linejoin="round"/>
<circle cx="327.8" cy="184.4" r="0.8" fill="#3a6cf0"/>
<circle cx="337.4" cy="165.1" r="0.8" fill="#3a6cf0"/>
<circle cx="346.9" cy="135.1" r="0.8" fill="#3a6cf0"/>
<circle cx="356.5" cy="107.3" r="0.8" fill="#3a6cf0"/>
<circle cx="366.0" cy="84.6" r="0.8" fill="#3a6cf0"/>
<circle cx="375.6" cy="63.0" r="0.8" fill="#3a6cf0"/>
<circle cx="385.2" cy="48.1" r="0.8" fill="#3a6cf0"/>
<circle cx="394.7" cy="38.9" r="0.8" fill="#3a6cf0"/>
<circle cx="404.3" cy="34.7" r="0.8" fill="#3a6cf0"/>
<circle cx="413.8" cy="31.5" r="0.8" fill="#3a6cf0"/>
<circle cx="423.4" cy="27.4" r="0.8" fill="#3a6cf0"/>
<circle cx="433.0" cy="25.9" r="0.8" fill="#3a6cf0"/>
<circle cx="442.5" cy="30.3" r="0.8" fill="#3a6cf0"/>
<circle cx="452.1" cy="34.7" r="0.8" fill="#3a6cf0"/>
<circle cx="461.6" cy="32.9" r="0.8" fill="#3a6cf0"/>
<circle cx="471.2" cy="44.7" r="0.8" fill="#3a6cf0"/>
<circle cx="480.8" cy="60.6" r="0.8" fill="#3a6cf0"/>
<circle cx="490.3" cy="76.9" r="0.8" fill="#3a6cf0"/>
<circle cx="499.9" cy="94.4" r="0.8" fill="#3a6cf0"/>
<circle cx="509.4" cy="121.5" r="0.8" fill="#3a6cf0"/>
<circle cx="519.0" cy="150.7" r="0.8" fill="#3a6cf0"/>
<polyline points="328.60,183.42 331.79,180.60 334.97,173.37 338.16,164.19 341.35,156.61 344.53,146.82 347.72,135.66 350.91,126.69 354.09,117.81 357.28,108.57 360.47,99.89 363.65,92.60 366.84,85.36 370.03,78.40 373.21,72.05 376.40,65.44 379.59,58.12 382.77,54.62 385.96,50.66 389.15,45.68 392.33,43.04 395.52,39.36 398.71,37.10 401.89,37.82 405.08,35.81 408.27,34.19 411.45,33.81 414.64,33.25 417.83,32.06 421.01,28.09 424.20,27.45 427.39,25.90 430.57,25.39 433.76,27.53 436.95,29.11 440.13,28.34 443.32,29.46 446.51,34.75 449.69,34.82 452.88,35.42 456.07,36.52 459.25,35.78 462.44,34.03 465.63,36.96 468.81,41.98 472.00,47.46 475.19,52.89 478.37,57.73 481.56,61.20 484.75,67.54 487.93,73.02 491.12,81.48 494.31,83.77 497.49,91.24 500.68,96.28 503.87,103.34 507.05,112.75 510.24,123.79 513.43,134.48 516.61,143.60 519.80,152.46" fill="none" stroke="#6a58e0" stroke-width="1.0" stroke-dasharray="3.5 1.3 1 1.3" stroke-linejoin="round"/>
<circle cx="328.6" cy="183.4" r="0.8" fill="#5a48d8"/>
<circle cx="338.2" cy="164.2" r="0.8" fill="#5a48d8"/>
<circle cx="347.7" cy="135.7" r="0.8" fill="#5a48d8"/>
<circle cx="357.3" cy="108.6" r="0.8" fill="#5a48d8"/>
<circle cx="366.8" cy="85.4" r="0.8" fill="#5a48d8"/>
<circle cx="376.4" cy="65.4" r="0.8" fill="#5a48d8"/>
<circle cx="386.0" cy="50.7" r="0.8" fill="#5a48d8"/>
<circle cx="395.5" cy="39.4" r="0.8" fill="#5a48d8"/>
<circle cx="405.1" cy="35.8" r="0.8" fill="#5a48d8"/>
<circle cx="414.6" cy="33.3" r="0.8" fill="#5a48d8"/>
<circle cx="424.2" cy="27.4" r="0.8" fill="#5a48d8"/>
<circle cx="433.8" cy="27.5" r="0.8" fill="#5a48d8"/>
<circle cx="443.3" cy="29.5" r="0.8" fill="#5a48d8"/>
<circle cx="452.9" cy="35.4" r="0.8" fill="#5a48d8"/>
<circle cx="462.4" cy="34.0" r="0.8" fill="#5a48d8"/>
<circle cx="472.0" cy="47.5" r="0.8" fill="#5a48d8"/>
<circle cx="481.6" cy="61.2" r="0.8" fill="#5a48d8"/>
<circle cx="491.1" cy="81.5" r="0.8" fill="#5a48d8"/>
<circle cx="500.7" cy="96.3" r="0.8" fill="#5a48d8"/>
<circle cx="510.2" cy="123.8" r="0.8" fill="#5a48d8"/>
<circle cx="519.8" cy="152.5" r="0.8" fill="#5a48d8"/>
<polyline points="328.40,184.02 331.59,179.88 334.77,173.68 337.96,166.82 341.15,156.40 344.33,146.64 347.52,137.35 350.71,127.44 353.89,116.77 357.08,107.25 360.27,98.02 363.45,92.97 366.64,83.51 369.83,78.44 373.01,71.35 376.20,66.39 379.39,60.40 382.57,54.65 385.76,50.19 388.95,46.10 392.13,42.38 395.32,39.20 398.51,37.90 401.69,37.97 404.88,33.68 408.07,34.22 411.25,32.16 414.44,32.46 417.63,32.51 420.81,30.25 424.00,28.75 427.19,24.88 430.37,27.27 433.56,26.81 436.75,28.59 439.93,28.94 443.12,28.16 446.31,32.24 449.49,35.43 452.68,37.93 455.87,36.56 459.05,35.63 462.24,33.39 465.43,37.54 468.61,44.04 471.80,48.32 474.99,52.53 478.17,55.58 481.36,62.57 484.55,69.67 487.73,73.75 490.92,80.07 494.11,84.90 497.29,89.11 500.48,97.53 503.67,102.35 506.85,111.91 510.04,123.24 513.23,134.13 516.41,143.68 519.60,153.35" fill="none" stroke="#ff4a12" stroke-width="1.6" stroke-dasharray="3.5 1.3 1 1.3" stroke-linejoin="round"/>
<circle cx="328.4" cy="184.0" r="0.9" fill="#ff4010"/>
<circle cx="338.0" cy="166.8" r="0.9" fill="#ff4010"/>
<circle cx="347.5" cy="137.4" r="0.9" fill="#ff4010"/>
<circle cx="357.1" cy="107.2" r="0.9" fill="#ff4010"/>
<circle cx="366.6" cy="83.5" r="0.9" fill="#ff4010"/>
<circle cx="376.2" cy="66.4" r="0.9" fill="#ff4010"/>
<circle cx="385.8" cy="50.2" r="0.9" fill="#ff4010"/>
<circle cx="395.3" cy="39.2" r="0.9" fill="#ff4010"/>
<circle cx="404.9" cy="33.7" r="0.9" fill="#ff4010"/>
<circle cx="414.4" cy="32.5" r="0.9" fill="#ff4010"/>
<circle cx="424.0" cy="28.7" r="0.9" fill="#ff4010"/>
<circle cx="433.6" cy="26.8" r="0.9" fill="#ff4010"/>
<circle cx="443.1" cy="28.2" r="0.9" fill="#ff4010"/>
<circle cx="452.7" cy="37.9" r="0.9" fill="#ff4010"/>
<circle cx="462.2" cy="33.4" r="0.9" fill="#ff4010"/>
<circle cx="471.8" cy="48.3" r="0.9" fill="#ff4010"/>
<circle cx="481.4" cy="62.6" r="0.9" fill="#ff4010"/>
<circle cx="490.9" cy="80.1" r="0.9" fill="#ff4010"/>
<circle cx="500.5" cy="97.5" r="0.9" fill="#ff4010"/>
<circle cx="510.0" cy="123.2" r="0.9" fill="#ff4010"/>
<circle cx="519.6" cy="153.3" r="0.9" fill="#ff4010"/>
<line x1="39.6" y1="241.4" x2="39.6" y2="417.9" stroke="#333" stroke-width="1.05"/>
<line x1="39.1" y1="418.0" x2="256.6" y2="418.0" stroke="#7a7a7a" stroke-width="2"/>
<text x="0" y="0" font-size="9.99" text-anchor="end" fill="#1a1a1a" stroke="#1a1a1a" stroke-width="0.25" transform="translate(35.40,421.35) scale(0.95,1) rotate(0.05)">0</text>
<line x1="39.6" y1="373.77" x2="42.0" y2="373.77" stroke="#333" stroke-width="1"/>
<text x="0" y="0" font-size="9.99" text-anchor="end" fill="#1a1a1a" stroke="#1a1a1a" stroke-width="0.25" transform="translate(35.40,377.22) scale(0.95,1) rotate(0.05)">50</text>
<line x1="39.6" y1="329.65" x2="42.0" y2="329.65" stroke="#333" stroke-width="1"/>
<text x="0" y="0" font-size="9.99" text-anchor="end" fill="#1a1a1a" stroke="#1a1a1a" stroke-width="0.25" transform="translate(35.40,333.10) scale(0.95,1) rotate(0.05)">100</text>
<line x1="39.6" y1="285.52" x2="42.0" y2="285.52" stroke="#333" stroke-width="1"/>
<text x="0" y="0" font-size="9.99" text-anchor="end" fill="#1a1a1a" stroke="#1a1a1a" stroke-width="0.25" transform="translate(35.40,288.97) scale(0.95,1) rotate(0.05)">150</text>
<line x1="39.6" y1="241.40" x2="42.0" y2="241.40" stroke="#333" stroke-width="1"/>
<text x="0" y="0" font-size="9.99" text-anchor="end" fill="#1a1a1a" stroke="#1a1a1a" stroke-width="0.25" transform="translate(35.40,244.85) scale(0.95,1) rotate(0.05)">200</text>
<line x1="43.70" y1="417.9" x2="43.70" y2="415.4" stroke="#555" stroke-width="1"/>
<text x="0" y="0" font-size="9.99" text-anchor="middle" fill="#1a1a1a" stroke="#1a1a1a" stroke-width="0.25" transform="translate(43.70,432.30) scale(0.95,1) rotate(0.05)">7:00</text>
<line x1="78.50" y1="417.9" x2="78.50" y2="415.4" stroke="#555" stroke-width="1"/>
<text x="0" y="0" font-size="9.99" text-anchor="middle" fill="#1a1a1a" stroke="#1a1a1a" stroke-width="0.25" transform="translate(78.50,432.30) scale(0.95,1) rotate(0.05)">9:45</text>
<line x1="113.30" y1="417.9" x2="113.30" y2="415.4" stroke="#555" stroke-width="1"/>
<text x="0" y="0" font-size="9.99" text-anchor="middle" fill="#1a1a1a" stroke="#1a1a1a" stroke-width="0.25" transform="translate(113.30,432.30) scale(0.95,1) rotate(0.05)">12:30</text>
<line x1="148.10" y1="417.9" x2="148.10" y2="415.4" stroke="#555" stroke-width="1"/>
<text x="0" y="0" font-size="9.99" text-anchor="middle" fill="#1a1a1a" stroke="#1a1a1a" stroke-width="0.25" transform="translate(148.10,432.30) scale(0.95,1) rotate(0.05)">15:15</text>
<line x1="182.90" y1="417.9" x2="182.90" y2="415.4" stroke="#555" stroke-width="1"/>
<text x="0" y="0" font-size="9.99" text-anchor="middle" fill="#1a1a1a" stroke="#1a1a1a" stroke-width="0.25" transform="translate(182.90,432.30) scale(0.95,1) rotate(0.05)">18:00</text>
<line x1="217.70" y1="417.9" x2="217.70" y2="415.4" stroke="#555" stroke-width="1"/>
<text x="0" y="0" font-size="9.99" text-anchor="middle" fill="#1a1a1a" stroke="#1a1a1a" stroke-width="0.25" transform="translate(217.70,432.30) scale(0.95,1) rotate(0.05)">7:00</text>
<text x="0" y="0" font-size="9.89" text-anchor="middle" fill="#1a1a1a" stroke="#1a1a1a" stroke-width="0.25" transform="translate(148.00,444.80) scale(0.95,1) rotate(0.05)">Time(h)</text>
<text x="0" y="0" font-size="10.09" text-anchor="middle" fill="#1a1a1a" stroke="#1a1a1a" stroke-width="0.25" transform="translate(145.70,456.60) scale(0.95,1) rotate(0.05)">(c)</text>
<text x="0" y="0" font-size="10.0" text-anchor="middle" fill="#1a1a1a" stroke="#1a1a1a" stroke-width="0.25" transform="translate(14.6,329.9) rotate(-90) scale(0.95,1)">PV power(kW)</text>
<polyline points="42.60,416.27 45.78,411.40 48.96,408.38 52.14,401.45 55.33,380.89 58.51,370.08 61.69,360.36 64.87,348.87 68.05,340.36 71.23,332.34 74.42,326.43 77.60,320.01 80.78,314.76 83.96,305.72 87.14,299.73 90.32,295.31 93.51,289.97 96.69,285.74 99.87,282.98 103.05,277.38 106.23,273.16 109.41,270.15 112.60,268.85 115.78,266.53 118.96,263.27 122.14,261.93 125.32,261.62 128.50,260.53 131.69,258.95 134.87,259.39 138.05,259.03 141.23,257.05 144.41,257.57 147.59,257.81 150.78,260.23 153.96,259.84 157.14,261.47 160.32,263.41 163.50,266.18 166.69,266.12 169.87,272.12 173.05,272.57 176.23,277.47 179.41,281.53 182.59,285.93 185.77,290.17 188.96,293.75 192.14,299.23 195.32,303.14 198.50,307.36 201.68,316.91 204.87,321.40 208.05,327.45 211.23,330.81 214.41,340.69 217.59,350.11 220.77,359.65 223.95,367.58 227.14,377.96 230.32,391.56 233.50,404.56" fill="none" stroke="#4ce64c" stroke-width="1.3" stroke-linejoin="round"/>
<polyline points="43.30,415.61 46.48,412.37 49.66,407.64 52.84,401.83 56.03,381.72 59.21,372.32 62.39,361.61 65.57,350.13 68.75,342.14 71.93,332.94 75.12,326.07 78.30,320.36 81.48,312.49 84.66,306.58 87.84,299.28 91.02,294.75 94.21,291.26 97.39,285.45 100.57,281.94 103.75,276.99 106.93,273.16 110.11,270.21 113.30,269.63 116.48,267.97 119.66,264.57 122.84,262.12 126.02,261.74 129.20,259.89 132.39,259.96 135.57,259.16 138.75,258.83 141.93,258.73 145.11,257.38 148.29,257.23 151.48,259.43 154.66,261.02 157.84,260.67 161.02,262.78 164.20,264.40 167.38,267.72 170.57,270.61 173.75,272.36 176.93,276.23 180.11,280.00 183.29,285.77 186.47,291.26 189.66,295.16 192.84,298.54 196.02,304.67 199.20,308.07 202.38,315.98 205.56,320.44 208.75,324.23 211.93,333.31 215.11,340.76 218.29,348.27 221.47,358.68 224.65,367.44 227.84,378.87 231.02,390.65 234.20,405.62" fill="none" stroke="#ec6a30" stroke-width="1.35" stroke-dasharray="4 2.4" stroke-linejoin="round"/>
<polyline points="43.80,417.13 46.98,412.45 50.16,409.15 53.34,401.95 56.53,383.36 59.71,370.34 62.89,360.70 66.07,348.58 69.25,340.11 72.43,334.02 75.62,325.16 78.80,319.51 81.98,312.63 85.16,305.25 88.34,299.04 91.52,293.25 94.71,288.42 97.89,284.70 101.07,279.92 104.25,274.39 107.43,270.09 110.61,267.76 113.80,264.88 116.98,263.23 120.16,262.18 123.34,259.23 126.52,257.22 129.70,256.01 132.89,254.80 136.07,254.32 139.25,253.93 142.43,254.06 145.61,253.69 148.79,254.50 151.98,257.09 155.16,258.17 158.34,257.97 161.52,261.35 164.70,262.90 167.88,266.52 171.07,268.62 174.25,272.33 177.43,274.74 180.61,279.49 183.79,285.68 186.97,287.98 190.16,294.38 193.34,299.17 196.52,303.30 199.70,309.14 202.88,315.38 206.06,320.06 209.25,326.17 212.43,330.59 215.61,338.99 218.79,348.42 221.97,358.37 225.15,367.64 228.34,379.10 231.52,390.66 234.70,407.52" fill="none" stroke="#8a8a8a" stroke-width="1.0" stroke-dasharray="0.9 1.3" stroke-linejoin="round"/>
<circle cx="43.8" cy="417.1" r="0.8" fill="#555"/>
<circle cx="50.2" cy="409.2" r="0.8" fill="#555"/>
<circle cx="56.5" cy="383.4" r="0.8" fill="#555"/>
<circle cx="62.9" cy="360.7" r="0.8" fill="#555"/>
<circle cx="69.3" cy="340.1" r="0.8" fill="#555"/>
<circle cx="75.6" cy="325.2" r="0.8" fill="#555"/>
<circle cx="82.0" cy="312.6" r="0.8" fill="#555"/>
<circle cx="88.3" cy="299.0" r="0.8" fill="#555"/>
<circle cx="94.7" cy="288.4" r="0.8" fill="#555"/>
<circle cx="101.1" cy="279.9" r="0.8" fill="#555"/>
<circle cx="107.4" cy="270.1" r="0.8" fill="#555"/>
<circle cx="113.8" cy="264.9" r="0.8" fill="#555"/>
<circle cx="120.2" cy="262.2" r="0.8" fill="#555"/>
<circle cx="126.5" cy="257.2" r="0.8" fill="#555"/>
<circle cx="132.9" cy="254.8" r="0.8" fill="#555"/>
<circle cx="139.2" cy="253.9" r="0.8" fill="#555"/>
<circle cx="145.6" cy="253.7" r="0.8" fill="#555"/>
<circle cx="152.0" cy="257.1" r="0.8" fill="#555"/>
<circle cx="158.3" cy="258.0" r="0.8" fill="#555"/>
<circle cx="164.7" cy="262.9" r="0.8" fill="#555"/>
<circle cx="171.1" cy="268.6" r="0.8" fill="#555"/>
<circle cx="177.4" cy="274.7" r="0.8" fill="#555"/>
<circle cx="183.8" cy="285.7" r="0.8" fill="#555"/>
<circle cx="190.2" cy="294.4" r="0.8" fill="#555"/>
<circle cx="196.5" cy="303.3" r="0.8" fill="#555"/>
<circle cx="202.9" cy="315.4" r="0.8" fill="#555"/>
<circle cx="209.2" cy="326.2" r="0.8" fill="#555"/>
<circle cx="215.6" cy="339.0" r="0.8" fill="#555"/>
<circle cx="222.0" cy="358.4" r="0.8" fill="#555"/>
<circle cx="228.3" cy="379.1" r="0.8" fill="#555"/>
<circle cx="234.7" cy="407.5" r="0.8" fill="#555"/>
<polyline points="42.90,417.63 46.08,412.83 49.26,408.10 52.45,401.92 55.63,382.26 58.81,371.37 61.99,359.65 65.17,350.90 68.35,343.66 71.53,332.49 74.72,327.42 77.90,320.47 81.08,313.84 84.26,308.41 87.44,300.10 90.62,295.63 93.81,292.11 96.99,286.88 100.17,282.64 103.35,278.97 106.53,275.03 109.71,273.69 112.90,269.66 116.08,268.92 119.26,265.59 122.44,265.56 125.62,263.67 128.80,260.77 131.99,261.89 135.17,260.69 138.35,260.81 141.53,261.91 144.71,259.49 147.89,259.22 151.08,264.04 154.26,263.65 157.44,264.86 160.62,265.03 163.80,266.18 166.98,269.20 170.17,272.66 173.35,275.42 176.53,278.09 179.71,281.90 182.89,286.27 186.07,290.66 189.26,296.88 192.44,299.63 195.62,303.58 198.80,309.45 201.98,316.04 205.16,321.88 208.35,326.52 211.53,331.35 214.71,339.99 217.89,348.04 221.07,357.82 224.25,368.31 227.44,378.54 230.62,392.00 233.80,406.99" fill="none" stroke="#f03cf0" stroke-width="1.0" stroke-dasharray="0.9 1.3" stroke-linejoin="round"/>
<circle cx="42.9" cy="417.6" r="0.8" fill="#f020f0"/>
<circle cx="49.3" cy="408.1" r="0.8" fill="#f020f0"/>
<circle cx="55.6" cy="382.3" r="0.8" fill="#f020f0"/>
<circle cx="62.0" cy="359.7" r="0.8" fill="#f020f0"/>
<circle cx="68.4" cy="343.7" r="0.8" fill="#f020f0"/>
<circle cx="74.7" cy="327.4" r="0.8" fill="#f020f0"/>
<circle cx="81.1" cy="313.8" r="0.8" fill="#f020f0"/>
<circle cx="87.4" cy="300.1" r="0.8" fill="#f020f0"/>
<circle cx="93.8" cy="292.1" r="0.8" fill="#f020f0"/>
<circle cx="100.2" cy="282.6" r="0.8" fill="#f020f0"/>
<circle cx="106.5" cy="275.0" r="0.8" fill="#f020f0"/>
<circle cx="112.9" cy="269.7" r="0.8" fill="#f020f0"/>
<circle cx="119.3" cy="265.6" r="0.8" fill="#f020f0"/>
<circle cx="125.6" cy="263.7" r="0.8" fill="#f020f0"/>
<circle cx="132.0" cy="261.9" r="0.8" fill="#f020f0"/>
<circle cx="138.3" cy="260.8" r="0.8" fill="#f020f0"/>
<circle cx="144.7" cy="259.5" r="0.8" fill="#f020f0"/>
<circle cx="151.1" cy="264.0" r="0.8" fill="#f020f0"/>
<circle cx="157.4" cy="264.9" r="0.8" fill="#f020f0"/>
<circle cx="163.8" cy="266.2" r="0.8" fill="#f020f0"/>
<circle cx="170.2" cy="272.7" r="0.8" fill="#f020f0"/>
<circle cx="176.5" cy="278.1" r="0.8" fill="#f020f0"/>
<circle cx="182.9" cy="286.3" r="0.8" fill="#f020f0"/>
<circle cx="189.3" cy="296.9" r="0.8" fill="#f020f0"/>
<circle cx="195.6" cy="303.6" r="0.8" fill="#f020f0"/>
<circle cx="202.0" cy="316.0" r="0.8" fill="#f020f0"/>
<circle cx="208.3" cy="326.5" r="0.8" fill="#f020f0"/>
<circle cx="214.7" cy="340.0" r="0.8" fill="#f020f0"/>
<circle cx="221.1" cy="357.8" r="0.8" fill="#f020f0"/>
<circle cx="227.4" cy="378.5" r="0.8" fill="#f020f0"/>
<circle cx="233.8" cy="407.0" r="0.8" fill="#f020f0"/>
<polyline points="44.10,417.27 47.28,412.32 50.46,409.88 53.64,402.45 56.83,381.59 60.01,371.56 63.19,361.10 66.37,349.68 69.55,341.53 72.73,333.58 75.92,325.16 79.10,319.91 82.28,313.53 85.46,306.89 88.64,299.51 91.82,294.97 95.01,290.71 98.19,286.74 101.37,281.74 104.55,278.92 107.73,274.01 110.91,271.91 114.10,270.68 117.28,267.14 120.46,265.41 123.64,265.14 126.82,262.88 130.00,261.91 133.19,261.56 136.37,261.71 139.55,259.05 142.73,259.71 145.91,259.06 149.09,258.74 152.28,262.01 155.46,262.72 158.64,263.87 161.82,264.21 165.00,267.10 168.19,269.84 171.37,271.63 174.55,275.27 177.73,279.75 180.91,282.61 184.09,286.45 187.27,291.61 190.46,295.43 193.64,300.42 196.82,305.62 200.00,309.81 203.18,315.96 206.37,322.79 209.55,326.81 212.73,332.47 215.91,339.70 219.09,349.07 222.27,358.74 225.45,369.54 228.64,378.81 231.82,391.48 235.00,405.74" fill="none" stroke="#3cc0f0" stroke-width="1.0" stroke-dasharray="0.9 1.3" stroke-linejoin="round"/>
<circle cx="44.1" cy="417.3" r="0.8" fill="#20a8f0"/>
<circle cx="50.5" cy="409.9" r="0.8" fill="#20a8f0"/>
<circle cx="56.8" cy="381.6" r="0.8" fill="#20a8f0"/>
<circle cx="63.2" cy="361.1" r="0.8" fill="#20a8f0"/>
<circle cx="69.6" cy="341.5" r="0.8" fill="#20a8f0"/>
<circle cx="75.9" cy="325.2" r="0.8" fill="#20a8f0"/>
<circle cx="82.3" cy="313.5" r="0.8" fill="#20a8f0"/>
<circle cx="88.6" cy="299.5" r="0.8" fill="#20a8f0"/>
<circle cx="95.0" cy="290.7" r="0.8" fill="#20a8f0"/>
<circle cx="101.4" cy="281.7" r="0.8" fill="#20a8f0"/>
<circle cx="107.7" cy="274.0" r="0.8" fill="#20a8f0"/>
<circle cx="114.1" cy="270.7" r="0.8" fill="#20a8f0"/>
<circle cx="120.5" cy="265.4" r="0.8" fill="#20a8f0"/>
<circle cx="126.8" cy="262.9" r="0.8" fill="#20a8f0"/>
<circle cx="133.2" cy="261.6" r="0.8" fill="#20a8f0"/>
<circle cx="139.6" cy="259.0" r="0.8" fill="#20a8f0"/>
<circle cx="145.9" cy="259.1" r="0.8" fill="#20a8f0"/>
<circle cx="152.3" cy="262.0" r="0.8" fill="#20a8f0"/>
<circle cx="158.6" cy="263.9" r="0.8" fill="#20a8f0"/>
<circle cx="165.0" cy="267.1" r="0.8" fill="#20a8f0"/>
<circle cx="171.4" cy="271.6" r="0.8" fill="#20a8f0"/>
<circle cx="177.7" cy="279.7" r="0.8" fill="#20a8f0"/>
<circle cx="184.1" cy="286.4" r="0.8" fill="#20a8f0"/>
<circle cx="190.5" cy="295.4" r="0.8" fill="#20a8f0"/>
<circle cx="196.8" cy="305.6" r="0.8" fill="#20a8f0"/>
<circle cx="203.2" cy="316.0" r="0.8" fill="#20a8f0"/>
<circle cx="209.5" cy="326.8" r="0.8" fill="#20a8f0"/>
<circle cx="215.9" cy="339.7" r="0.8" fill="#20a8f0"/>
<circle cx="222.3" cy="358.7" r="0.8" fill="#20a8f0"/>
<circle cx="228.6" cy="378.8" r="0.8" fill="#20a8f0"/>
<circle cx="235.0" cy="405.7" r="0.8" fill="#20a8f0"/>
<polyline points="44.30,413.68 47.48,409.76 50.66,405.47 53.84,400.97 57.03,380.91 60.21,371.92 63.39,360.90 66.57,350.59 69.75,340.29 72.93,333.39 76.12,326.26 79.30,319.55 82.48,311.85 85.66,307.39 88.84,299.93 92.02,294.36 95.21,289.94 98.39,285.81 101.57,282.07 104.75,276.73 107.93,273.31 111.11,271.28 114.30,268.71 117.48,266.05 120.66,263.83 123.84,262.04 127.02,261.21 130.20,260.95 133.39,258.66 136.57,260.03 139.75,259.22 142.93,257.98 146.11,258.34 149.29,256.49 152.48,259.42 155.66,260.43 158.84,261.38 162.02,262.66 165.20,264.71 168.38,267.72 171.57,268.80 174.75,273.70 177.93,275.80 181.11,280.20 184.29,284.96 187.47,289.26 190.66,293.61 193.84,298.08 197.02,303.63 200.20,309.54 203.38,315.32 206.56,320.20 209.75,325.62 212.93,330.81 216.11,339.97 219.29,347.57 222.47,359.43 225.65,367.25 228.84,378.25 232.02,391.92 235.20,406.82" fill="none" stroke="#f0a020" stroke-width="1.0" stroke-dasharray="0.9 1.3" stroke-linejoin="round"/>
<circle cx="44.3" cy="413.7" r="0.9" fill="#f09010"/>
<circle cx="50.7" cy="405.5" r="0.9" fill="#f09010"/>
<circle cx="57.0" cy="380.9" r="0.9" fill="#f09010"/>
<circle cx="63.4" cy="360.9" r="0.9" fill="#f09010"/>
<circle cx="69.8" cy="340.3" r="0.9" fill="#f09010"/>
<circle cx="76.1" cy="326.3" r="0.9" fill="#f09010"/>
<circle cx="82.5" cy="311.9" r="0.9" fill="#f09010"/>
<circle cx="88.8" cy="299.9" r="0.9" fill="#f09010"/>
<circle cx="95.2" cy="289.9" r="0.9" fill="#f09010"/>
<circle cx="101.6" cy="282.1" r="0.9" fill="#f09010"/>
<circle cx="107.9" cy="273.3" r="0.9" fill="#f09010"/>
<circle cx="114.3" cy="268.7" r="0.9" fill="#f09010"/>
<circle cx="120.7" cy="263.8" r="0.9" fill="#f09010"/>
<circle cx="127.0" cy="261.2" r="0.9" fill="#f09010"/>
<circle cx="133.4" cy="258.7" r="0.9" fill="#f09010"/>
<circle cx="139.8" cy="259.2" r="0.9" fill="#f09010"/>
<circle cx="146.1" cy="258.3" r="0.9" fill="#f09010"/>
<circle cx="152.5" cy="259.4" r="0.9" fill="#f09010"/>
<circle cx="158.8" cy="261.4" r="0.9" fill="#f09010"/>
<circle cx="165.2" cy="264.7" r="0.9" fill="#f09010"/>
<circle cx="171.6" cy="268.8" r="0.9" fill="#f09010"/>
<circle cx="177.9" cy="275.8" r="0.9" fill="#f09010"/>
<circle cx="184.3" cy="285.0" r="0.9" fill="#f09010"/>
<circle cx="190.7" cy="293.6" r="0.9" fill="#f09010"/>
<circle cx="197.0" cy="303.6" r="0.9" fill="#f09010"/>
<circle cx="203.4" cy="315.3" r="0.9" fill="#f09010"/>
<circle cx="209.7" cy="325.6" r="0.9" fill="#f09010"/>
<circle cx="216.1" cy="340.0" r="0.9" fill="#f09010"/>
<circle cx="222.5" cy="359.4" r="0.9" fill="#f09010"/>
<circle cx="228.8" cy="378.2" r="0.9" fill="#f09010"/>
<circle cx="235.2" cy="406.8" r="0.9" fill="#f09010"/>
<polyline points="42.80,417.04 45.98,413.03 49.16,408.41 52.34,402.76 55.53,382.59 58.71,370.77 61.89,361.53 65.07,350.04 68.25,341.05 71.43,332.45 74.62,325.63 77.80,319.69 80.98,311.76 84.16,306.44 87.34,299.53 90.52,293.81 93.71,287.18 96.89,284.01 100.07,279.75 103.25,273.99 106.43,270.40 109.61,265.40 112.80,264.78 115.98,261.27 119.16,260.02 122.34,256.36 125.52,256.73 128.70,255.02 131.89,255.12 135.07,253.61 138.25,253.64 141.43,255.47 144.61,253.01 147.79,253.06 150.98,256.71 154.16,257.10 157.34,259.16 160.52,260.91 163.70,261.55 166.88,263.56 170.07,268.38 173.25,271.56 176.43,274.98 179.61,279.28 182.79,282.65 185.97,288.18 189.16,292.04 192.34,296.43 195.52,303.15 198.70,307.62 201.88,315.62 205.06,320.17 208.25,325.06 211.43,331.46 214.61,340.47 217.79,348.99 220.97,357.46 224.15,367.67 227.34,379.65 230.52,391.29 233.70,405.55" fill="none" stroke="#6a6a2a" stroke-width="1.0" stroke-dasharray="3.5 1.3 1 1.3" stroke-linejoin="round"/>
<circle cx="42.8" cy="417.0" r="0.7" fill="#5a5a20"/>
<circle cx="52.3" cy="402.8" r="0.7" fill="#5a5a20"/>
<circle cx="61.9" cy="361.5" r="0.7" fill="#5a5a20"/>
<circle cx="71.4" cy="332.5" r="0.7" fill="#5a5a20"/>
<circle cx="81.0" cy="311.8" r="0.7" fill="#5a5a20"/>
<circle cx="90.5" cy="293.8" r="0.7" fill="#5a5a20"/>
<circle cx="100.1" cy="279.8" r="0.7" fill="#5a5a20"/>
<circle cx="109.6" cy="265.4" r="0.7" fill="#5a5a20"/>
<circle cx="119.2" cy="260.0" r="0.7" fill="#5a5a20"/>
<circle cx="128.7" cy="255.0" r="0.7" fill="#5a5a20"/>
<circle cx="138.2" cy="253.6" r="0.7" fill="#5a5a20"/>
<circle cx="147.8" cy="253.1" r="0.7" fill="#5a5a20"/>
<circle cx="157.3" cy="259.2" r="0.7" fill="#5a5a20"/>
<circle cx="166.9" cy="263.6" r="0.7" fill="#5a5a20"/>
<circle cx="176.4" cy="275.0" r="0.7" fill="#5a5a20"/>
<circle cx="186.0" cy="288.2" r="0.7" fill="#5a5a20"/>
<circle cx="195.5" cy="303.1" r="0.7" fill="#5a5a20"/>
<circle cx="205.1" cy="320.2" r="0.7" fill="#5a5a20"/>
<circle cx="214.6" cy="340.5" r="0.7" fill="#5a5a20"/>
<circle cx="224.2" cy="367.7" r="0.7" fill="#5a5a20"/>
<circle cx="233.7" cy="405.5" r="0.7" fill="#5a5a20"/>
<polyline points="43.60,417.51 46.78,412.40 49.96,407.56 53.14,401.68 56.33,381.27 59.51,371.17 62.69,360.78 65.87,350.97 69.05,341.80 72.23,332.39 75.42,326.59 78.60,320.35 81.78,313.68 84.96,307.49 88.14,299.82 91.32,294.00 94.51,290.77 97.69,285.23 100.87,280.27 104.05,278.34 107.23,273.46 110.41,270.86 113.60,267.63 116.78,265.39 119.96,263.42 123.14,262.37 126.32,261.51 129.50,258.52 132.69,259.92 135.87,258.13 139.05,257.89 142.23,258.78 145.41,257.74 148.59,256.44 151.78,261.92 154.96,260.73 158.14,261.84 161.32,263.03 164.50,266.06 167.69,267.33 170.87,271.00 174.05,272.84 177.23,277.58 180.41,280.13 183.59,284.99 186.77,291.39 189.96,294.79 193.14,298.86 196.32,305.21 199.50,309.38 202.68,314.36 205.87,321.41 209.05,325.35 212.23,332.24 215.41,340.50 218.59,348.60 221.77,358.13 224.95,367.72 228.14,378.81 231.32,391.00 234.50,406.50" fill="none" stroke="#e02cb0" stroke-width="1.0" stroke-dasharray="3.5 1.3 1 1.3" stroke-linejoin="round"/>
<circle cx="43.6" cy="417.5" r="0.7" fill="#d81ca0"/>
<circle cx="53.1" cy="401.7" r="0.7" fill="#d81ca0"/>
<circle cx="62.7" cy="360.8" r="0.7" fill="#d81ca0"/>
<circle cx="72.2" cy="332.4" r="0.7" fill="#d81ca0"/>
<circle cx="81.8" cy="313.7" r="0.7" fill="#d81ca0"/>
<circle cx="91.3" cy="294.0" r="0.7" fill="#d81ca0"/>
<circle cx="100.9" cy="280.3" r="0.7" fill="#d81ca0"/>
<circle cx="110.4" cy="270.9" r="0.7" fill="#d81ca0"/>
<circle cx="120.0" cy="263.4" r="0.7" fill="#d81ca0"/>
<circle cx="129.5" cy="258.5" r="0.7" fill="#d81ca0"/>
<circle cx="139.1" cy="257.9" r="0.7" fill="#d81ca0"/>
<circle cx="148.6" cy="256.4" r="0.7" fill="#d81ca0"/>
<circle cx="158.1" cy="261.8" r="0.7" fill="#d81ca0"/>
<circle cx="167.7" cy="267.3" r="0.7" fill="#d81ca0"/>
<circle cx="177.2" cy="277.6" r="0.7" fill="#d81ca0"/>
<circle cx="186.8" cy="291.4" r="0.7" fill="#d81ca0"/>
<circle cx="196.3" cy="305.2" r="0.7" fill="#d81ca0"/>
<circle cx="205.9" cy="321.4" r="0.7" fill="#d81ca0"/>
<circle cx="215.4" cy="340.5" r="0.7" fill="#d81ca0"/>
<circle cx="225.0" cy="367.7" r="0.7" fill="#d81ca0"/>
<circle cx="234.5" cy="406.5" r="0.7" fill="#d81ca0"/>
<polyline points="42.70,415.37 45.88,412.00 49.06,408.05 52.24,401.75 55.43,382.02 58.61,370.11 61.79,361.11 64.97,350.04 68.15,340.84 71.33,332.53 74.52,325.48 77.70,319.97 80.88,312.68 84.06,306.82 87.24,300.95 90.42,295.39 93.61,291.21 96.79,285.76 99.97,281.03 103.15,278.34 106.33,274.18 109.51,271.86 112.70,268.62 115.88,267.16 119.06,264.83 122.24,263.12 125.42,261.60 128.60,260.41 131.79,259.56 134.97,259.12 138.15,259.33 141.33,257.94 144.51,259.00 147.69,257.44 150.88,261.32 154.06,261.27 157.24,261.50 160.42,264.31 163.60,264.86 166.78,266.76 169.97,269.79 173.15,273.13 176.33,278.31 179.51,280.81 182.69,285.90 185.87,289.37 189.06,294.81 192.24,299.26 195.42,304.90 198.60,308.64 201.78,315.35 204.97,321.11 208.15,325.46 211.33,331.44 214.51,339.47 217.69,347.37 220.87,358.99 224.05,367.97 227.24,378.49 230.42,390.75 233.60,407.14" fill="none" stroke="#4a7cf0" stroke-width="1.0" stroke-dasharray="3.5 1.3 1 1.3" stroke-linejoin="round"/>
<circle cx="42.7" cy="415.4" r="0.8" fill="#3a6cf0"/>
<circle cx="52.2" cy="401.8" r="0.8" fill="#3a6cf0"/>
<circle cx="61.8" cy="361.1" r="0.8" fill="#3a6cf0"/>
<circle cx="71.3" cy="332.5" r="0.8" fill="#3a6cf0"/>
<circle cx="80.9" cy="312.7" r="0.8" fill="#3a6cf0"/>
<circle cx="90.4" cy="295.4" r="0.8" fill="#3a6cf0"/>
<circle cx="100.0" cy="281.0" r="0.8" fill="#3a6cf0"/>
<circle cx="109.5" cy="271.9" r="0.8" fill="#3a6cf0"/>
<circle cx="119.1" cy="264.8" r="0.8" fill="#3a6cf0"/>
<circle cx="128.6" cy="260.4" r="0.8" fill="#3a6cf0"/>
<circle cx="138.2" cy="259.3" r="0.8" fill="#3a6cf0"/>
<circle cx="147.7" cy="257.4" r="0.8" fill="#3a6cf0"/>
<circle cx="157.2" cy="261.5" r="0.8" fill="#3a6cf0"/>
<circle cx="166.8" cy="266.8" r="0.8" fill="#3a6cf0"/>
<circle cx="176.3" cy="278.3" r="0.8" fill="#3a6cf0"/>
<circle cx="185.9" cy="289.4" r="0.8" fill="#3a6cf0"/>
<circle cx="195.4" cy="304.9" r="0.8" fill="#3a6cf0"/>
<circle cx="205.0" cy="321.1" r="0.8" fill="#3a6cf0"/>
<circle cx="214.5" cy="339.5" r="0.8" fill="#3a6cf0"/>
<circle cx="224.1" cy="368.0" r="0.8" fill="#3a6cf0"/>
<circle cx="233.6" cy="407.1" r="0.8" fill="#3a6cf0"/>
<polyline points="43.50,416.99 46.68,413.00 49.86,409.28 53.05,401.50 56.23,382.23 59.41,370.59 62.59,360.37 65.77,349.72 68.95,340.80 72.13,333.65 75.32,325.65 78.50,318.73 81.68,312.14 84.86,305.83 88.04,298.23 91.22,292.81 94.41,288.40 97.59,283.72 100.77,279.67 103.95,274.87 107.13,272.65 110.31,268.85 113.50,265.37 116.68,262.42 119.86,261.77 123.04,258.89 126.22,257.34 129.40,256.67 132.59,256.14 135.77,256.69 138.95,255.55 142.13,256.87 145.31,254.43 148.49,255.42 151.68,257.50 154.86,260.34 158.04,259.33 161.22,260.90 164.40,263.95 167.58,266.95 170.77,268.14 173.95,271.95 177.13,274.87 180.31,280.02 183.49,284.62 186.67,289.44 189.86,293.86 193.04,298.40 196.22,303.08 199.40,309.49 202.58,315.99 205.76,319.55 208.95,326.10 212.13,331.16 215.31,340.00 218.49,348.33 221.67,358.46 224.85,366.86 228.04,379.29 231.22,391.75 234.40,405.99" fill="none" stroke="#6a58e0" stroke-width="1.0" stroke-dasharray="3.5 1.3 1 1.3" stroke-linejoin="round"/>
<circle cx="43.5" cy="417.0" r="0.8" fill="#5a48d8"/>
<circle cx="53.0" cy="401.5" r="0.8" fill="#5a48d8"/>
<circle cx="62.6" cy="360.4" r="0.8" fill="#5a48d8"/>
<circle cx="72.1" cy="333.6" r="0.8" fill="#5a48d8"/>
<circle cx="81.7" cy="312.1" r="0.8" fill="#5a48d8"/>
<circle cx="91.2" cy="292.8" r="0.8" fill="#5a48d8"/>
<circle cx="100.8" cy="279.7" r="0.8" fill="#5a48d8"/>
<circle cx="110.3" cy="268.8" r="0.8" fill="#5a48d8"/>
<circle cx="119.9" cy="261.8" r="0.8" fill="#5a48d8"/>
<circle cx="129.4" cy="256.7" r="0.8" fill="#5a48d8"/>
<circle cx="138.9" cy="255.6" r="0.8" fill="#5a48d8"/>
<circle cx="148.5" cy="255.4" r="0.8" fill="#5a48d8"/>
<circle cx="158.0" cy="259.3" r="0.8" fill="#5a48d8"/>
<circle cx="167.6" cy="267.0" r="0.8" fill="#5a48d8"/>
<circle cx="177.1" cy="274.9" r="0.8" fill="#5a48d8"/>
<circle cx="186.7" cy="289.4" r="0.8" fill="#5a48d8"/>
<circle cx="196.2" cy="303.1" r="0.8" fill="#5a48d8"/>
<circle cx="205.8" cy="319.5" r="0.8" fill="#5a48d8"/>
<circle cx="215.3" cy="340.0" r="0.8" fill="#5a48d8"/>
<circle cx="224.9" cy="366.9" r="0.8" fill="#5a48d8"/>
<circle cx="234.4" cy="406.0" r="0.8" fill="#5a48d8"/>
<polyline points="43.30,417.06 46.48,412.13 49.66,407.25 52.84,402.36 56.03,382.00 59.21,370.86 62.39,361.39 65.57,351.02 68.75,340.53 71.93,332.94 75.12,327.39 78.30,320.71 81.48,312.84 84.66,305.95 87.84,299.76 91.02,294.32 94.21,289.01 97.39,285.99 100.57,280.89 103.75,276.77 106.93,274.61 110.11,270.59 113.30,268.56 116.48,266.76 119.66,264.80 122.84,262.39 126.02,261.28 129.20,259.55 132.39,260.62 135.57,259.41 138.75,257.86 141.93,258.30 145.11,258.29 148.29,257.85 151.48,261.91 154.66,262.29 157.84,261.29 161.02,262.82 164.20,264.18 167.38,267.82 170.57,270.40 173.75,275.25 176.93,276.87 180.11,279.20 183.29,284.78 186.47,290.15 189.66,293.69 192.84,298.18 196.02,303.39 199.20,309.36 202.38,314.81 205.56,320.28 208.75,326.73 211.93,331.07 215.11,339.31 218.29,348.03 221.47,358.02 224.65,368.05 227.84,377.66 231.02,391.63 234.20,406.60" fill="none" stroke="#ff4a12" stroke-width="1.6" stroke-dasharray="3.5 1.3 1 1.3" stroke-linejoin="round"/>
<circle cx="43.3" cy="417.1" r="0.9" fill="#ff4010"/>
<circle cx="52.8" cy="402.4" r="0.9" fill="#ff4010"/>
<circle cx="62.4" cy="361.4" r="0.9" fill="#ff4010"/>
<circle cx="71.9" cy="332.9" r="0.9" fill="#ff4010"/>
<circle cx="81.5" cy="312.8" r="0.9" fill="#ff4010"/>
<circle cx="91.0" cy="294.3" r="0.9" fill="#ff4010"/>
<circle cx="100.6" cy="280.9" r="0.9" fill="#ff4010"/>
<circle cx="110.1" cy="270.6" r="0.9" fill="#ff4010"/>
<circle cx="119.7" cy="264.8" r="0.9" fill="#ff4010"/>
<circle cx="129.2" cy="259.5" r="0.9" fill="#ff4010"/>
<circle cx="138.8" cy="257.9" r="0.9" fill="#ff4010"/>
<circle cx="148.3" cy="257.9" r="0.9" fill="#ff4010"/>
<circle cx="157.8" cy="261.3" r="0.9" fill="#ff4010"/>
<circle cx="167.4" cy="267.8" r="0.9" fill="#ff4010"/>
<circle cx="176.9" cy="276.9" r="0.9" fill="#ff4010"/>
<circle cx="186.5" cy="290.1" r="0.9" fill="#ff4010"/>
<circle cx="196.0" cy="303.4" r="0.9" fill="#ff4010"/>
<circle cx="205.6" cy="320.3" r="0.9" fill="#ff4010"/>
<circle cx="215.1" cy="339.3" r="0.9" fill="#ff4010"/>
<circle cx="224.7" cy="368.0" r="0.9" fill="#ff4010"/>
<circle cx="234.2" cy="406.6" r="0.9" fill="#ff4010"/>
<line x1="324.70000000000005" y1="241.4" x2="324.70000000000005" y2="417.9" stroke="#333" stroke-width="1.05"/>
<line x1="324.20000000000005" y1="418.0" x2="541.7" y2="418.0" stroke="#7a7a7a" stroke-width="2"/>
<text x="0" y="0" font-size="9.99" text-anchor="end" fill="#1a1a1a" stroke="#1a1a1a" stroke-width="0.25" transform="translate(320.50,421.35) scale(0.95,1) rotate(0.05)">0</text>
<line x1="324.70000000000005" y1="373.77" x2="327.1" y2="373.77" stroke="#333" stroke-width="1"/>
<text x="0" y="0" font-size="9.99" text-anchor="end" fill="#1a1a1a" stroke="#1a1a1a" stroke-width="0.25" transform="translate(320.50,377.22) scale(0.95,1) rotate(0.05)">50</text>
<line x1="324.70000000000005" y1="329.65" x2="327.1" y2="329.65" stroke="#333" stroke-width="1"/>
<text x="0" y="0" font-size="9.99" text-anchor="end" fill="#1a1a1a" stroke="#1a1a1a" stroke-width="0.25" transform="translate(320.50,333.10) scale(0.95,1) rotate(0.05)">100</text>
<line x1="324.70000000000005" y1="285.52" x2="327.1" y2="285.52" stroke="#333" stroke-width="1"/>
<text x="0" y="0" font-size="9.99" text-anchor="end" fill="#1a1a1a" stroke="#1a1a1a" stroke-width="0.25" transform="translate(320.50,288.97) scale(0.95,1) rotate(0.05)">150</text>
<line x1="324.70000000000005" y1="241.40" x2="327.1" y2="241.40" stroke="#333" stroke-width="1"/>
<text x="0" y="0" font-size="9.99" text-anchor="end" fill="#1a1a1a" stroke="#1a1a1a" stroke-width="0.25" transform="translate(320.50,244.85) scale(0.95,1) rotate(0.05)">200</text>
<line x1="328.80" y1="417.9" x2="328.80" y2="415.4" stroke="#555" stroke-width="1"/>
<text x="0" y="0" font-size="9.99" text-anchor="middle" fill="#1a1a1a" stroke="#1a1a1a" stroke-width="0.25" transform="translate(328.80,432.30) scale(0.95,1) rotate(0.05)">7:00</text>
<line x1="363.60" y1="417.9" x2="363.60" y2="415.4" stroke="#555" stroke-width="1"/>
<text x="0" y="0" font-size="9.99" text-anchor="middle" fill="#1a1a1a" stroke="#1a1a1a" stroke-width="0.25" transform="translate(363.60,432.30) scale(0.95,1) rotate(0.05)">9:45</text>
<line x1="398.40" y1="417.9" x2="398.40" y2="415.4" stroke="#555" stroke-width="1"/>
<text x="0" y="0" font-size="9.99" text-anchor="middle" fill="#1a1a1a" stroke="#1a1a1a" stroke-width="0.25" transform="translate(398.40,432.30) scale(0.95,1) rotate(0.05)">12:30</text>
<line x1="433.20" y1="417.9" x2="433.20" y2="415.4" stroke="#555" stroke-width="1"/>
<text x="0" y="0" font-size="9.99" text-anchor="middle" fill="#1a1a1a" stroke="#1a1a1a" stroke-width="0.25" transform="translate(433.20,432.30) scale(0.95,1) rotate(0.05)">15:15</text>
<line x1="468.00" y1="417.9" x2="468.00" y2="415.4" stroke="#555" stroke-width="1"/>
<text x="0" y="0" font-size="9.99" text-anchor="middle" fill="#1a1a1a" stroke="#1a1a1a" stroke-width="0.25" transform="translate(468.00,432.30) scale(0.95,1) rotate(0.05)">18:00</text>
<line x1="502.80" y1="417.9" x2="502.80" y2="415.4" stroke="#555" stroke-width="1"/>
<text x="0" y="0" font-size="9.99" text-anchor="middle" fill="#1a1a1a" stroke="#1a1a1a" stroke-width="0.25" transform="translate(502.80,432.30) scale(0.95,1) rotate(0.05)">7:00</text>
<text x="0" y="0" font-size="9.89" text-anchor="middle" fill="#1a1a1a" stroke="#1a1a1a" stroke-width="0.25" transform="translate(433.10,444.80) scale(0.95,1) rotate(0.05)">Time(h)</text>
<text x="0" y="0" font-size="10.09" text-anchor="middle" fill="#1a1a1a" stroke="#1a1a1a" stroke-width="0.25" transform="translate(430.80,456.60) scale(0.95,1) rotate(0.05)">(d)</text>
<text x="0" y="0" font-size="10.0" text-anchor="middle" fill="#1a1a1a" stroke="#1a1a1a" stroke-width="0.25" transform="translate(299.70000000000005,329.9) rotate(-90) scale(0.95,1)">PV power(kW)</text>
<polyline points="327.40,417.34 330.60,417.03 333.80,413.21 337.00,405.22 340.20,394.88 343.40,384.09 346.60,372.50 349.80,361.51 353.00,352.62 356.20,344.94 359.40,335.17 362.60,327.23 365.80,317.81 369.00,310.92 372.20,305.23 375.40,300.56 378.60,294.99 381.80,293.16 385.00,290.30 388.20,285.67 391.40,282.73 394.60,281.29 397.80,278.09 401.00,274.44 404.20,274.02 407.40,271.10 410.60,268.96 413.80,269.83 417.00,267.69 420.20,266.63 423.40,267.24 426.60,266.84 429.80,267.49 433.00,268.47 436.20,268.16 439.40,271.48 442.60,275.11 445.80,275.28 449.00,275.89 452.20,276.79 455.40,278.41 458.60,281.71 461.80,285.12 465.00,291.60 468.20,294.20 471.40,298.44 474.60,301.27 477.80,306.02 481.00,311.50 484.20,317.80 487.40,322.42 490.60,329.41 493.80,336.18 497.00,343.40 500.20,350.99 503.40,360.61 506.60,370.29 509.80,382.91 513.00,392.02 516.20,399.36 519.40,408.89" fill="none" stroke="#4ce64c" stroke-width="1.3" stroke-linejoin="round"/>
<polyline points="328.10,417.05 331.30,417.74 334.50,413.91 337.70,405.72 340.90,394.47 344.10,383.63 347.30,373.27 350.50,362.66 353.70,352.62 356.90,343.36 360.10,335.03 363.30,326.16 366.50,314.15 369.70,305.27 372.90,300.05 376.10,296.88 379.30,290.11 382.50,284.85 385.70,279.31 388.90,274.46 392.10,272.44 395.30,270.98 398.50,270.44 401.70,267.37 404.90,264.88 408.10,262.91 411.30,261.29 414.50,259.07 417.70,258.91 420.90,258.37 424.10,257.89 427.30,258.30 430.50,259.17 433.70,259.90 436.90,262.12 440.10,262.79 443.30,265.63 446.50,267.38 449.70,269.17 452.90,272.12 456.10,276.94 459.30,281.57 462.50,285.92 465.70,289.91 468.90,294.24 472.10,297.34 475.30,301.31 478.50,304.63 481.70,310.39 484.90,315.70 488.10,321.52 491.30,328.68 494.50,335.57 497.70,341.75 500.90,351.00 504.10,359.42 507.30,371.51 510.50,383.18 513.70,390.82 516.90,399.91 520.10,409.50" fill="none" stroke="#ec6a30" stroke-width="1.35" stroke-dasharray="4 2.4" stroke-linejoin="round"/>
<polyline points="328.60,417.85 331.80,417.32 335.00,414.90 338.20,403.64 341.40,395.27 344.60,383.35 347.80,374.05 351.00,363.21 354.20,352.64 357.40,343.35 360.60,334.79 363.80,326.43 367.00,318.67 370.20,312.40 373.40,304.96 376.60,301.31 379.80,297.30 383.00,293.80 386.20,290.72 389.40,288.75 392.60,285.52 395.80,283.50 399.00,281.18 402.20,279.99 405.40,275.10 408.60,275.21 411.80,272.81 415.00,272.21 418.20,271.26 421.40,270.39 424.60,271.60 427.80,271.92 431.00,273.30 434.20,272.16 437.40,274.44 440.60,276.23 443.80,277.18 447.00,276.87 450.20,276.67 453.40,276.85 456.60,278.65 459.80,281.55 463.00,285.77 466.20,289.97 469.40,295.25 472.60,298.49 475.80,302.77 479.00,307.92 482.20,311.87 485.40,316.81 488.60,321.95 491.80,328.58 495.00,335.37 498.20,344.52 501.40,351.36 504.60,360.65 507.80,371.10 511.00,382.91 514.20,392.99 517.40,399.34 520.60,409.36" fill="none" stroke="#8a8a8a" stroke-width="1.0" stroke-dasharray="0.9 1.3" stroke-linejoin="round"/>
<circle cx="328.6" cy="417.8" r="0.8" fill="#555"/>
<circle cx="335.0" cy="414.9" r="0.8" fill="#555"/>
<circle cx="341.4" cy="395.3" r="0.8" fill="#555"/>
<circle cx="347.8" cy="374.0" r="0.8" fill="#555"/>
<circle cx="354.2" cy="352.6" r="0.8" fill="#555"/>
<circle cx="360.6" cy="334.8" r="0.8" fill="#555"/>
<circle cx="367.0" cy="318.7" r="0.8" fill="#555"/>
<circle cx="373.4" cy="305.0" r="0.8" fill="#555"/>
<circle cx="379.8" cy="297.3" r="0.8" fill="#555"/>
<circle cx="386.2" cy="290.7" r="0.8" fill="#555"/>
<circle cx="392.6" cy="285.5" r="0.8" fill="#555"/>
<circle cx="399.0" cy="281.2" r="0.8" fill="#555"/>
<circle cx="405.4" cy="275.1" r="0.8" fill="#555"/>
<circle cx="411.8" cy="272.8" r="0.8" fill="#555"/>
<circle cx="418.2" cy="271.3" r="0.8" fill="#555"/>
<circle cx="424.6" cy="271.6" r="0.8" fill="#555"/>
<circle cx="431.0" cy="273.3" r="0.8" fill="#555"/>
<circle cx="437.4" cy="274.4" r="0.8" fill="#555"/>
<circle cx="443.8" cy="277.2" r="0.8" fill="#555"/>
<circle cx="450.2" cy="276.7" r="0.8" fill="#555"/>
<circle cx="456.6" cy="278.7" r="0.8" fill="#555"/>
<circle cx="463.0" cy="285.8" r="0.8" fill="#555"/>
<circle cx="469.4" cy="295.3" r="0.8" fill="#555"/>
<circle cx="475.8" cy="302.8" r="0.8" fill="#555"/>
<circle cx="482.2" cy="311.9" r="0.8" fill="#555"/>
<circle cx="488.6" cy="321.9" r="0.8" fill="#555"/>
<circle cx="495.0" cy="335.4" r="0.8" fill="#555"/>
<circle cx="501.4" cy="351.4" r="0.8" fill="#555"/>
<circle cx="507.8" cy="371.1" r="0.8" fill="#555"/>
<circle cx="514.2" cy="393.0" r="0.8" fill="#555"/>
<circle cx="520.6" cy="409.4" r="0.8" fill="#555"/>
<polyline points="327.70,417.04 330.90,417.34 334.10,412.97 337.30,403.00 340.50,392.40 343.70,381.94 346.90,372.79 350.10,362.48 353.30,349.37 356.50,342.19 359.70,332.40 362.90,322.28 366.10,314.27 369.30,306.89 372.50,300.75 375.70,297.62 378.90,290.72 382.10,288.77 385.30,285.61 388.50,282.30 391.70,280.45 394.90,278.88 398.10,276.42 401.30,274.63 404.50,272.72 407.70,268.90 410.90,270.11 414.10,269.94 417.30,268.28 420.50,267.87 423.70,266.19 426.90,267.48 430.10,267.45 433.30,267.79 436.50,269.23 439.70,271.23 442.90,273.85 446.10,273.34 449.30,275.21 452.50,262.48 455.70,277.57 458.90,280.19 462.10,286.46 465.30,289.45 468.50,287.13 471.70,298.05 474.90,303.07 478.10,307.73 481.30,307.37 484.50,316.28 487.70,322.59 490.90,330.15 494.10,335.79 497.30,344.93 500.50,352.82 503.70,360.62 506.90,371.96 510.10,383.35 513.30,393.09 516.50,399.09 519.70,410.43" fill="none" stroke="#f03cf0" stroke-width="1.0" stroke-dasharray="0.9 1.3" stroke-linejoin="round"/>
<circle cx="327.7" cy="417.0" r="0.8" fill="#f020f0"/>
<circle cx="334.1" cy="413.0" r="0.8" fill="#f020f0"/>
<circle cx="340.5" cy="392.4" r="0.8" fill="#f020f0"/>
<circle cx="346.9" cy="372.8" r="0.8" fill="#f020f0"/>
<circle cx="353.3" cy="349.4" r="0.8" fill="#f020f0"/>
<circle cx="359.7" cy="332.4" r="0.8" fill="#f020f0"/>
<circle cx="366.1" cy="314.3" r="0.8" fill="#f020f0"/>
<circle cx="372.5" cy="300.8" r="0.8" fill="#f020f0"/>
<circle cx="378.9" cy="290.7" r="0.8" fill="#f020f0"/>
<circle cx="385.3" cy="285.6" r="0.8" fill="#f020f0"/>
<circle cx="391.7" cy="280.4" r="0.8" fill="#f020f0"/>
<circle cx="398.1" cy="276.4" r="0.8" fill="#f020f0"/>
<circle cx="404.5" cy="272.7" r="0.8" fill="#f020f0"/>
<circle cx="410.9" cy="270.1" r="0.8" fill="#f020f0"/>
<circle cx="417.3" cy="268.3" r="0.8" fill="#f020f0"/>
<circle cx="423.7" cy="266.2" r="0.8" fill="#f020f0"/>
<circle cx="430.1" cy="267.5" r="0.8" fill="#f020f0"/>
<circle cx="436.5" cy="269.2" r="0.8" fill="#f020f0"/>
<circle cx="442.9" cy="273.9" r="0.8" fill="#f020f0"/>
<circle cx="449.3" cy="275.2" r="0.8" fill="#f020f0"/>
<circle cx="455.7" cy="277.6" r="0.8" fill="#f020f0"/>
<circle cx="462.1" cy="286.5" r="0.8" fill="#f020f0"/>
<circle cx="468.5" cy="287.1" r="0.8" fill="#f020f0"/>
<circle cx="474.9" cy="303.1" r="0.8" fill="#f020f0"/>
<circle cx="481.3" cy="307.4" r="0.8" fill="#f020f0"/>
<circle cx="487.7" cy="322.6" r="0.8" fill="#f020f0"/>
<circle cx="494.1" cy="335.8" r="0.8" fill="#f020f0"/>
<circle cx="500.5" cy="352.8" r="0.8" fill="#f020f0"/>
<circle cx="506.9" cy="372.0" r="0.8" fill="#f020f0"/>
<circle cx="513.3" cy="393.1" r="0.8" fill="#f020f0"/>
<circle cx="519.7" cy="410.4" r="0.8" fill="#f020f0"/>
<polyline points="328.90,417.34 332.10,416.33 335.30,414.06 338.50,404.15 341.70,393.42 344.90,382.80 348.10,373.07 351.30,363.26 354.50,353.31 357.70,344.19 360.90,335.79 364.10,326.00 367.30,318.19 370.50,311.25 373.70,304.48 376.90,299.57 380.10,296.13 383.30,292.27 386.50,288.63 389.70,286.75 392.90,283.49 396.10,281.76 399.30,278.54 402.50,275.89 405.70,273.54 408.90,270.87 412.10,268.83 415.30,268.07 418.50,268.12 421.70,267.61 424.90,268.07 428.10,266.38 431.30,267.74 434.50,267.91 437.70,268.67 440.90,271.48 444.10,273.58 447.30,275.23 450.50,275.45 453.70,275.60 456.90,279.00 460.10,281.39 463.30,284.74 466.50,290.88 469.70,294.35 472.90,299.41 476.10,302.08 479.30,305.69 482.50,310.88 485.70,316.25 488.90,323.02 492.10,329.53 495.30,336.46 498.50,343.53 501.70,349.26 504.90,360.63 508.10,370.18 511.30,383.00 514.50,392.79 517.70,400.01 520.90,409.33" fill="none" stroke="#3cc0f0" stroke-width="1.0" stroke-dasharray="0.9 1.3" stroke-linejoin="round"/>
<circle cx="328.9" cy="417.3" r="0.8" fill="#20a8f0"/>
<circle cx="335.3" cy="414.1" r="0.8" fill="#20a8f0"/>
<circle cx="341.7" cy="393.4" r="0.8" fill="#20a8f0"/>
<circle cx="348.1" cy="373.1" r="0.8" fill="#20a8f0"/>
<circle cx="354.5" cy="353.3" r="0.8" fill="#20a8f0"/>
<circle cx="360.9" cy="335.8" r="0.8" fill="#20a8f0"/>
<circle cx="367.3" cy="318.2" r="0.8" fill="#20a8f0"/>
<circle cx="373.7" cy="304.5" r="0.8" fill="#20a8f0"/>
<circle cx="380.1" cy="296.1" r="0.8" fill="#20a8f0"/>
<circle cx="386.5" cy="288.6" r="0.8" fill="#20a8f0"/>
<circle cx="392.9" cy="283.5" r="0.8" fill="#20a8f0"/>
<circle cx="399.3" cy="278.5" r="0.8" fill="#20a8f0"/>
<circle cx="405.7" cy="273.5" r="0.8" fill="#20a8f0"/>
<circle cx="412.1" cy="268.8" r="0.8" fill="#20a8f0"/>
<circle cx="418.5" cy="268.1" r="0.8" fill="#20a8f0"/>
<circle cx="424.9" cy="268.1" r="0.8" fill="#20a8f0"/>
<circle cx="431.3" cy="267.7" r="0.8" fill="#20a8f0"/>
<circle cx="437.7" cy="268.7" r="0.8" fill="#20a8f0"/>
<circle cx="444.1" cy="273.6" r="0.8" fill="#20a8f0"/>
<circle cx="450.5" cy="275.4" r="0.8" fill="#20a8f0"/>
<circle cx="456.9" cy="279.0" r="0.8" fill="#20a8f0"/>
<circle cx="463.3" cy="284.7" r="0.8" fill="#20a8f0"/>
<circle cx="469.7" cy="294.3" r="0.8" fill="#20a8f0"/>
<circle cx="476.1" cy="302.1" r="0.8" fill="#20a8f0"/>
<circle cx="482.5" cy="310.9" r="0.8" fill="#20a8f0"/>
<circle cx="488.9" cy="323.0" r="0.8" fill="#20a8f0"/>
<circle cx="495.3" cy="336.5" r="0.8" fill="#20a8f0"/>
<circle cx="501.7" cy="349.3" r="0.8" fill="#20a8f0"/>
<circle cx="508.1" cy="370.2" r="0.8" fill="#20a8f0"/>
<circle cx="514.5" cy="392.8" r="0.8" fill="#20a8f0"/>
<circle cx="520.9" cy="409.3" r="0.8" fill="#20a8f0"/>
<polyline points="329.10,417.47 332.30,416.77 335.50,413.60 338.70,403.89 341.90,393.47 345.10,384.75 348.30,373.72 351.50,362.91 354.70,351.76 357.90,343.79 361.10,334.84 364.30,326.68 367.50,318.82 370.70,311.22 373.90,304.76 377.10,299.72 380.30,297.22 383.50,292.30 386.70,289.17 389.90,287.50 393.10,284.44 396.30,281.42 399.50,278.26 402.70,277.75 405.90,273.73 409.10,271.37 412.30,269.18 415.50,267.36 418.70,266.66 421.90,267.44 425.10,267.45 428.30,267.40 431.50,267.20 434.70,267.19 437.90,268.32 441.10,270.77 444.30,274.57 447.50,275.49 450.70,277.30 453.90,277.03 457.10,277.65 460.30,280.08 463.50,282.72 466.70,289.88 469.90,294.74 473.10,299.29 476.30,302.66 479.50,306.67 482.70,311.29 485.90,317.24 489.10,323.90 492.30,328.66 495.50,336.11 498.70,342.95 501.90,352.96 505.10,361.47 508.30,372.03 511.50,381.99 514.70,392.12 517.90,399.66 521.10,409.66" fill="none" stroke="#f0a020" stroke-width="1.0" stroke-dasharray="0.9 1.3" stroke-linejoin="round"/>
<circle cx="329.1" cy="417.5" r="0.9" fill="#f09010"/>
<circle cx="335.5" cy="413.6" r="0.9" fill="#f09010"/>
<circle cx="341.9" cy="393.5" r="0.9" fill="#f09010"/>
<circle cx="348.3" cy="373.7" r="0.9" fill="#f09010"/>
<circle cx="354.7" cy="351.8" r="0.9" fill="#f09010"/>
<circle cx="361.1" cy="334.8" r="0.9" fill="#f09010"/>
<circle cx="367.5" cy="318.8" r="0.9" fill="#f09010"/>
<circle cx="373.9" cy="304.8" r="0.9" fill="#f09010"/>
<circle cx="380.3" cy="297.2" r="0.9" fill="#f09010"/>
<circle cx="386.7" cy="289.2" r="0.9" fill="#f09010"/>
<circle cx="393.1" cy="284.4" r="0.9" fill="#f09010"/>
<circle cx="399.5" cy="278.3" r="0.9" fill="#f09010"/>
<circle cx="405.9" cy="273.7" r="0.9" fill="#f09010"/>
<circle cx="412.3" cy="269.2" r="0.9" fill="#f09010"/>
<circle cx="418.7" cy="266.7" r="0.9" fill="#f09010"/>
<circle cx="425.1" cy="267.4" r="0.9" fill="#f09010"/>
<circle cx="431.5" cy="267.2" r="0.9" fill="#f09010"/>
<circle cx="437.9" cy="268.3" r="0.9" fill="#f09010"/>
<circle cx="444.3" cy="274.6" r="0.9" fill="#f09010"/>
<circle cx="450.7" cy="277.3" r="0.9" fill="#f09010"/>
<circle cx="457.1" cy="277.7" r="0.9" fill="#f09010"/>
<circle cx="463.5" cy="282.7" r="0.9" fill="#f09010"/>
<circle cx="469.9" cy="294.7" r="0.9" fill="#f09010"/>
<circle cx="476.3" cy="302.7" r="0.9" fill="#f09010"/>
<circle cx="482.7" cy="311.3" r="0.9" fill="#f09010"/>
<circle cx="489.1" cy="323.9" r="0.9" fill="#f09010"/>
<circle cx="495.5" cy="336.1" r="0.9" fill="#f09010"/>
<circle cx="501.9" cy="353.0" r="0.9" fill="#f09010"/>
<circle cx="508.3" cy="372.0" r="0.9" fill="#f09010"/>
<circle cx="514.7" cy="392.1" r="0.9" fill="#f09010"/>
<circle cx="521.1" cy="409.7" r="0.9" fill="#f09010"/>
<polyline points="327.60,417.47 330.80,417.23 334.00,413.71 337.20,404.90 340.40,394.28 343.60,383.72 346.80,373.65 350.00,361.93 353.20,352.50 356.40,343.55 359.60,335.17 362.80,326.08 366.00,317.20 369.20,311.68 372.40,304.49 375.60,300.74 378.80,296.35 382.00,291.34 385.20,288.71 388.40,286.12 391.60,283.10 394.80,280.22 398.00,279.06 401.20,275.94 404.40,273.72 407.60,270.69 410.80,269.51 414.00,267.83 417.20,267.58 420.40,267.56 423.60,267.20 426.80,267.25 430.00,267.26 433.20,268.32 436.40,268.79 439.60,271.61 442.80,273.41 446.00,275.06 449.20,277.06 452.40,276.20 455.60,278.30 458.80,280.96 462.00,283.34 465.20,290.38 468.40,294.37 471.60,299.59 474.80,302.06 478.00,305.71 481.20,310.98 484.40,316.90 487.60,322.49 490.80,329.37 494.00,335.48 497.20,343.76 500.40,352.37 503.60,361.94 506.80,372.00 510.00,383.02 513.20,392.83 516.40,400.53 519.60,410.76" fill="none" stroke="#6a6a2a" stroke-width="1.0" stroke-dasharray="3.5 1.3 1 1.3" stroke-linejoin="round"/>
<circle cx="327.6" cy="417.5" r="0.7" fill="#5a5a20"/>
<circle cx="337.2" cy="404.9" r="0.7" fill="#5a5a20"/>
<circle cx="346.8" cy="373.7" r="0.7" fill="#5a5a20"/>
<circle cx="356.4" cy="343.5" r="0.7" fill="#5a5a20"/>
<circle cx="366.0" cy="317.2" r="0.7" fill="#5a5a20"/>
<circle cx="375.6" cy="300.7" r="0.7" fill="#5a5a20"/>
<circle cx="385.2" cy="288.7" r="0.7" fill="#5a5a20"/>
<circle cx="394.8" cy="280.2" r="0.7" fill="#5a5a20"/>
<circle cx="404.4" cy="273.7" r="0.7" fill="#5a5a20"/>
<circle cx="414.0" cy="267.8" r="0.7" fill="#5a5a20"/>
<circle cx="423.6" cy="267.2" r="0.7" fill="#5a5a20"/>
<circle cx="433.2" cy="268.3" r="0.7" fill="#5a5a20"/>
<circle cx="442.8" cy="273.4" r="0.7" fill="#5a5a20"/>
<circle cx="452.4" cy="276.2" r="0.7" fill="#5a5a20"/>
<circle cx="462.0" cy="283.3" r="0.7" fill="#5a5a20"/>
<circle cx="471.6" cy="299.6" r="0.7" fill="#5a5a20"/>
<circle cx="481.2" cy="311.0" r="0.7" fill="#5a5a20"/>
<circle cx="490.8" cy="329.4" r="0.7" fill="#5a5a20"/>
<circle cx="500.4" cy="352.4" r="0.7" fill="#5a5a20"/>
<circle cx="510.0" cy="383.0" r="0.7" fill="#5a5a20"/>
<circle cx="519.6" cy="410.8" r="0.7" fill="#5a5a20"/>
<polyline points="328.40,418.36 331.60,416.78 334.80,414.17 338.00,404.43 341.20,394.32 344.40,384.06 347.60,373.18 350.80,360.77 354.00,351.46 357.20,342.32 360.40,335.01 363.60,326.36 366.80,317.07 370.00,311.53 373.20,305.84 376.40,300.33 379.60,297.23 382.80,293.81 386.00,288.53 389.20,287.20 392.40,283.99 395.60,281.34 398.80,279.20 402.00,275.60 405.20,273.04 408.40,270.41 411.60,268.77 414.80,268.29 418.00,266.58 421.20,266.42 424.40,267.58 427.60,267.52 430.80,268.29 434.00,266.88 437.20,268.00 440.40,271.40 443.60,273.97 446.80,274.27 450.00,275.98 453.20,276.38 456.40,278.08 459.60,280.70 462.80,285.63 466.00,289.97 469.20,295.65 472.40,298.94 475.60,302.34 478.80,306.29 482.00,311.50 485.20,317.49 488.40,323.55 491.60,329.67 494.80,337.05 498.00,344.00 501.20,352.70 504.40,360.55 507.60,370.05 510.80,383.77 514.00,392.08 517.20,399.00 520.40,409.46" fill="none" stroke="#e02cb0" stroke-width="1.0" stroke-dasharray="3.5 1.3 1 1.3" stroke-linejoin="round"/>
<circle cx="328.4" cy="418.4" r="0.7" fill="#d81ca0"/>
<circle cx="338.0" cy="404.4" r="0.7" fill="#d81ca0"/>
<circle cx="347.6" cy="373.2" r="0.7" fill="#d81ca0"/>
<circle cx="357.2" cy="342.3" r="0.7" fill="#d81ca0"/>
<circle cx="366.8" cy="317.1" r="0.7" fill="#d81ca0"/>
<circle cx="376.4" cy="300.3" r="0.7" fill="#d81ca0"/>
<circle cx="386.0" cy="288.5" r="0.7" fill="#d81ca0"/>
<circle cx="395.6" cy="281.3" r="0.7" fill="#d81ca0"/>
<circle cx="405.2" cy="273.0" r="0.7" fill="#d81ca0"/>
<circle cx="414.8" cy="268.3" r="0.7" fill="#d81ca0"/>
<circle cx="424.4" cy="267.6" r="0.7" fill="#d81ca0"/>
<circle cx="434.0" cy="266.9" r="0.7" fill="#d81ca0"/>
<circle cx="443.6" cy="274.0" r="0.7" fill="#d81ca0"/>
<circle cx="453.2" cy="276.4" r="0.7" fill="#d81ca0"/>
<circle cx="462.8" cy="285.6" r="0.7" fill="#d81ca0"/>
<circle cx="472.4" cy="298.9" r="0.7" fill="#d81ca0"/>
<circle cx="482.0" cy="311.5" r="0.7" fill="#d81ca0"/>
<circle cx="491.6" cy="329.7" r="0.7" fill="#d81ca0"/>
<circle cx="501.2" cy="352.7" r="0.7" fill="#d81ca0"/>
<circle cx="510.8" cy="383.8" r="0.7" fill="#d81ca0"/>
<circle cx="520.4" cy="409.5" r="0.7" fill="#d81ca0"/>
<polyline points="327.50,416.98 330.70,418.34 333.90,414.34 337.10,403.20 340.30,394.49 343.50,383.64 346.70,375.07 349.90,361.50 353.10,350.36 356.30,343.78 359.50,334.72 362.70,326.07 365.90,316.73 369.10,311.21 372.30,306.05 375.50,298.29 378.70,295.95 381.90,290.83 385.10,289.26 388.30,284.51 391.50,280.82 394.70,278.81 397.90,275.77 401.10,272.46 404.30,270.64 407.50,267.19 410.70,264.22 413.90,265.05 417.10,261.72 420.30,260.68 423.50,261.19 426.70,260.12 429.90,260.63 433.10,261.36 436.30,261.75 439.50,265.79 442.70,269.28 445.90,269.61 449.10,271.59 452.30,273.43 455.50,274.70 458.70,279.02 461.90,283.24 465.10,290.07 468.30,294.33 471.50,297.88 474.70,300.66 477.90,305.79 481.10,310.14 484.30,316.89 487.50,322.49 490.70,328.59 493.90,336.88 497.10,344.27 500.30,351.30 503.50,361.31 506.70,371.25 509.90,382.59 513.10,392.08 516.30,399.29 519.50,409.29" fill="none" stroke="#4a7cf0" stroke-width="1.0" stroke-dasharray="3.5 1.3 1 1.3" stroke-linejoin="round"/>
<circle cx="327.5" cy="417.0" r="0.8" fill="#3a6cf0"/>
<circle cx="337.1" cy="403.2" r="0.8" fill="#3a6cf0"/>
<circle cx="346.7" cy="375.1" r="0.8" fill="#3a6cf0"/>
<circle cx="356.3" cy="343.8" r="0.8" fill="#3a6cf0"/>
<circle cx="365.9" cy="316.7" r="0.8" fill="#3a6cf0"/>
<circle cx="375.5" cy="298.3" r="0.8" fill="#3a6cf0"/>
<circle cx="385.1" cy="289.3" r="0.8" fill="#3a6cf0"/>
<circle cx="394.7" cy="278.8" r="0.8" fill="#3a6cf0"/>
<circle cx="404.3" cy="270.6" r="0.8" fill="#3a6cf0"/>
<circle cx="413.9" cy="265.1" r="0.8" fill="#3a6cf0"/>
<circle cx="423.5" cy="261.2" r="0.8" fill="#3a6cf0"/>
<circle cx="433.1" cy="261.4" r="0.8" fill="#3a6cf0"/>
<circle cx="442.7" cy="269.3" r="0.8" fill="#3a6cf0"/>
<circle cx="452.3" cy="273.4" r="0.8" fill="#3a6cf0"/>
<circle cx="461.9" cy="283.2" r="0.8" fill="#3a6cf0"/>
<circle cx="471.5" cy="297.9" r="0.8" fill="#3a6cf0"/>
<circle cx="481.1" cy="310.1" r="0.8" fill="#3a6cf0"/>
<circle cx="490.7" cy="328.6" r="0.8" fill="#3a6cf0"/>
<circle cx="500.3" cy="351.3" r="0.8" fill="#3a6cf0"/>
<circle cx="509.9" cy="382.6" r="0.8" fill="#3a6cf0"/>
<circle cx="519.5" cy="409.3" r="0.8" fill="#3a6cf0"/>
<polyline points="328.30,417.49 331.50,417.94 334.70,415.04 337.90,404.12 341.10,395.24 344.30,383.89 347.50,374.00 350.70,362.86 353.90,352.14 357.10,345.43 360.30,335.13 363.50,325.52 366.70,319.15 369.90,310.76 373.10,305.02 376.30,298.17 379.50,296.76 382.70,293.07 385.90,289.93 389.10,287.16 392.30,284.86 395.50,281.01 398.70,279.20 401.90,275.58 405.10,273.21 408.30,271.73 411.50,269.57 414.70,267.42 417.90,267.85 421.10,267.03 424.30,266.60 427.50,267.87 430.70,267.74 433.90,267.10 437.10,267.77 440.30,273.03 443.50,272.88 446.70,274.83 449.90,275.75 453.10,276.86 456.30,277.21 459.50,280.47 462.70,285.24 465.90,290.86 469.10,294.41 472.30,297.80 475.50,302.94 478.70,307.03 481.90,311.40 485.10,316.36 488.30,323.17 491.50,329.49 494.70,337.02 497.90,343.04 501.10,351.91 504.30,360.46 507.50,370.73 510.70,382.98 513.90,392.03 517.10,399.53 520.30,409.88" fill="none" stroke="#6a58e0" stroke-width="1.0" stroke-dasharray="3.5 1.3 1 1.3" stroke-linejoin="round"/>
<circle cx="328.3" cy="417.5" r="0.8" fill="#5a48d8"/>
<circle cx="337.9" cy="404.1" r="0.8" fill="#5a48d8"/>
<circle cx="347.5" cy="374.0" r="0.8" fill="#5a48d8"/>
<circle cx="357.1" cy="345.4" r="0.8" fill="#5a48d8"/>
<circle cx="366.7" cy="319.2" r="0.8" fill="#5a48d8"/>
<circle cx="376.3" cy="298.2" r="0.8" fill="#5a48d8"/>
<circle cx="385.9" cy="289.9" r="0.8" fill="#5a48d8"/>
<circle cx="395.5" cy="281.0" r="0.8" fill="#5a48d8"/>
<circle cx="405.1" cy="273.2" r="0.8" fill="#5a48d8"/>
<circle cx="414.7" cy="267.4" r="0.8" fill="#5a48d8"/>
<circle cx="424.3" cy="266.6" r="0.8" fill="#5a48d8"/>
<circle cx="433.9" cy="267.1" r="0.8" fill="#5a48d8"/>
<circle cx="443.5" cy="272.9" r="0.8" fill="#5a48d8"/>
<circle cx="453.1" cy="276.9" r="0.8" fill="#5a48d8"/>
<circle cx="462.7" cy="285.2" r="0.8" fill="#5a48d8"/>
<circle cx="472.3" cy="297.8" r="0.8" fill="#5a48d8"/>
<circle cx="481.9" cy="311.4" r="0.8" fill="#5a48d8"/>
<circle cx="491.5" cy="329.5" r="0.8" fill="#5a48d8"/>
<circle cx="501.1" cy="351.9" r="0.8" fill="#5a48d8"/>
<circle cx="510.7" cy="383.0" r="0.8" fill="#5a48d8"/>
<circle cx="520.3" cy="409.9" r="0.8" fill="#5a48d8"/>
<polyline points="328.10,416.61 331.30,416.83 334.50,414.29 337.70,404.50 340.90,394.87 344.10,383.08 347.30,372.68 350.50,362.41 353.70,352.25 356.90,345.22 360.10,335.39 363.30,325.75 366.50,318.80 369.70,310.46 372.90,304.19 376.10,302.09 379.30,296.29 382.50,293.00 385.70,289.77 388.90,287.75 392.10,283.88 395.30,281.90 398.50,277.82 401.70,275.13 404.90,274.45 408.10,272.02 411.30,269.66 414.50,268.51 417.70,267.71 420.90,266.67 424.10,268.25 427.30,268.03 430.50,268.37 433.70,268.46 436.90,269.29 440.10,272.15 443.30,274.47 446.50,273.86 449.70,275.68 452.90,277.95 456.10,277.70 459.30,280.60 462.50,285.76 465.70,290.97 468.90,295.30 472.10,297.49 475.30,302.59 478.50,305.43 481.70,310.56 484.90,317.17 488.10,322.68 491.30,329.98 494.50,338.64 497.70,344.46 500.90,352.33 504.10,359.94 507.30,371.06 510.50,382.08 513.70,391.63 516.90,399.06 520.10,409.14" fill="none" stroke="#ff4a12" stroke-width="1.6" stroke-dasharray="3.5 1.3 1 1.3" stroke-linejoin="round"/>
<circle cx="328.1" cy="416.6" r="0.9" fill="#ff4010"/>
<circle cx="337.7" cy="404.5" r="0.9" fill="#ff4010"/>
<circle cx="347.3" cy="372.7" r="0.9" fill="#ff4010"/>
<circle cx="356.9" cy="345.2" r="0.9" fill="#ff4010"/>
<circle cx="366.5" cy="318.8" r="0.9" fill="#ff4010"/>
<circle cx="376.1" cy="302.1" r="0.9" fill="#ff4010"/>
<circle cx="385.7" cy="289.8" r="0.9" fill="#ff4010"/>
<circle cx="395.3" cy="281.9" r="0.9" fill="#ff4010"/>
<circle cx="404.9" cy="274.5" r="0.9" fill="#ff4010"/>
<circle cx="414.5" cy="268.5" r="0.9" fill="#ff4010"/>
<circle cx="424.1" cy="268.2" r="0.9" fill="#ff4010"/>
<circle cx="433.7" cy="268.5" r="0.9" fill="#ff4010"/>
<circle cx="443.3" cy="274.5" r="0.9" fill="#ff4010"/>
<circle cx="452.9" cy="277.9" r="0.9" fill="#ff4010"/>
<circle cx="462.5" cy="285.8" r="0.9" fill="#ff4010"/>
<circle cx="472.1" cy="297.5" r="0.9" fill="#ff4010"/>
<circle cx="481.7" cy="310.6" r="0.9" fill="#ff4010"/>
<circle cx="491.3" cy="330.0" r="0.9" fill="#ff4010"/>
<circle cx="500.9" cy="352.3" r="0.9" fill="#ff4010"/>
<circle cx="510.5" cy="382.1" r="0.9" fill="#ff4010"/>
<circle cx="520.1" cy="409.1" r="0.9" fill="#ff4010"/>
<rect x="101.7" y="103.5" width="75.7" height="58.9" fill="#fff"/>
<clipPath id="ca"><rect x="101.7" y="103.5" width="75.7" height="58.9"/></clipPath>
<g clip-path="url(#ca)">
<polyline points="100.00,125.80 105.80,125.10 113.10,123.60 121.80,124.40 129.10,125.40 136.40,126.30 143.60,138.90 150.90,130.90 158.20,133.80 165.50,136.70 172.80,139.80 180.00,143.50" fill="none" stroke="#4ce64c" stroke-width="2.2" stroke-linejoin="round"/>
<polyline points="100.00,131.40 105.80,130.70 113.10,128.80 121.80,130.70 129.10,135.80 135.60,131.40 143.60,143.80 150.90,137.20 158.20,139.40 165.50,142.30 172.80,145.00 180.00,148.00" fill="none" stroke="#8a8a8a" stroke-width="2.2" stroke-dasharray="0.9 1.3" stroke-linejoin="round"/>
<polyline points="100.00,133.70 105.80,133.00 113.10,131.10 121.80,133.00 129.10,138.10 135.60,133.70 143.60,146.10 150.90,139.50 158.20,141.70 165.50,144.60 172.80,147.30 180.00,150.30" fill="none" stroke="#f03cf0" stroke-width="2.4" stroke-dasharray="0.9 1.3" stroke-linejoin="round"/>
<polyline points="100.00,132.40 105.80,131.70 113.10,129.80 121.80,131.70 129.10,136.80 135.60,132.40 143.60,144.80 150.90,138.20 158.20,140.40 165.50,143.30 172.80,146.00 180.00,149.00" fill="none" stroke="#3cc0f0" stroke-width="2.4" stroke-dasharray="0.9 1.3" stroke-linejoin="round"/>
<polyline points="100.00,125.80 105.80,125.10 113.10,123.60 121.80,124.40 129.10,125.40 136.40,126.30 143.60,138.90 150.90,130.90 158.20,133.80 165.50,136.70 172.80,139.80 180.00,143.50" fill="none" stroke="#f0a020" stroke-width="2.4" stroke-dasharray="3 1" stroke-linejoin="round"/>
<polyline points="100.00,126.60 105.80,125.90 113.10,124.40 121.80,125.20 129.10,126.20 136.40,127.10 143.60,139.70 150.90,131.70 158.20,134.60 165.50,137.50 172.80,140.60 180.00,144.30" fill="none" stroke="#6a6a2a" stroke-width="2.4" stroke-dasharray="5 2 1.5 2" stroke-linejoin="round"/>
<polyline points="100.00,132.70 105.80,132.00 113.10,130.10 121.80,132.00 129.10,137.10 135.60,132.70 143.60,145.10 150.90,138.50 158.20,140.70 165.50,143.60 172.80,146.30 180.00,149.30" fill="none" stroke="#e02cb0" stroke-width="2.6" stroke-dasharray="3.5 1.3 1 1.3" stroke-linejoin="round"/>
<polyline points="100.00,129.70 105.80,129.00 113.10,127.10 121.80,129.00 129.10,134.10 135.60,129.70 143.60,142.10 150.90,135.50 158.20,137.70 165.50,140.60 172.80,143.30 180.00,146.30" fill="none" stroke="#4a7cf0" stroke-width="2.6" stroke-dasharray="3.5 1.3 1 1.3" stroke-linejoin="round"/>
<polyline points="100.00,128.70 105.80,128.00 113.10,126.10 121.80,128.00 129.10,133.10 135.60,128.70 143.60,141.10 150.90,134.50 158.20,136.70 165.50,139.60 172.80,142.30 180.00,145.30" fill="none" stroke="#6a58e0" stroke-width="2.6" stroke-dasharray="3.5 1.3 1 1.3" stroke-linejoin="round"/>
<polyline points="100.00,130.90 105.80,130.20 113.10,128.30 121.80,130.20 129.10,135.30 135.60,130.90 143.60,143.30 150.90,136.70 158.20,138.90 165.50,141.80 172.80,144.50 180.00,147.50" fill="none" stroke="#ff4a12" stroke-width="3.2" stroke-dasharray="6 1.5 2 1.5" stroke-linejoin="round"/>
<polyline points="100.00,142.00 108.70,136.70 124.70,138.90 136.40,141.10 150.90,147.60 161.10,151.30 168.40,157.80 178.00,162.50" fill="none" stroke="#e8541c" stroke-width="2.6" stroke-dasharray="7 3 2 3" stroke-linejoin="round"/>
<path d="M105.80,122.00L105.80,127.20M108.05,123.30L103.55,125.90M108.05,125.90L103.55,123.30M103.72,124.60L107.88,124.60" stroke="#f39a1c" stroke-width="0.9" fill="none"/>
<path d="M113.10,120.50L113.10,125.70M115.35,121.80L110.85,124.40M115.35,124.40L110.85,121.80M111.02,123.10L115.18,123.10" stroke="#f39a1c" stroke-width="0.9" fill="none"/>
<path d="M121.80,121.30L121.80,126.50M124.05,122.60L119.55,125.20M124.05,125.20L119.55,122.60M119.72,123.90L123.88,123.90" stroke="#f39a1c" stroke-width="0.9" fill="none"/>
<path d="M129.10,122.30L129.10,127.50M131.35,123.60L126.85,126.20M131.35,126.20L126.85,123.60M127.02,124.90L131.18,124.90" stroke="#f39a1c" stroke-width="0.9" fill="none"/>
<path d="M136.40,123.20L136.40,128.40M138.65,124.50L134.15,127.10M138.65,127.10L134.15,124.50M134.32,125.80L138.48,125.80" stroke="#f39a1c" stroke-width="0.9" fill="none"/>
<path d="M143.60,135.80L143.60,141.00M145.85,137.10L141.35,139.70M145.85,139.70L141.35,137.10M141.52,138.40L145.68,138.40" stroke="#f39a1c" stroke-width="0.9" fill="none"/>
<path d="M150.90,127.80L150.90,133.00M153.15,129.10L148.65,131.70M153.15,131.70L148.65,129.10M148.82,130.40L152.98,130.40" stroke="#f39a1c" stroke-width="0.9" fill="none"/>
<path d="M158.20,130.70L158.20,135.90M160.45,132.00L155.95,134.60M160.45,134.60L155.95,132.00M156.12,133.30L160.28,133.30" stroke="#f39a1c" stroke-width="0.9" fill="none"/>
<path d="M165.50,133.60L165.50,138.80M167.75,134.90L163.25,137.50M167.75,137.50L163.25,134.90M163.42,136.20L167.58,136.20" stroke="#f39a1c" stroke-width="0.9" fill="none"/>
<path d="M172.80,136.70L172.80,141.90M175.05,138.00L170.55,140.60M175.05,140.60L170.55,138.00M170.72,139.30L174.88,139.30" stroke="#f39a1c" stroke-width="0.9" fill="none"/>
<path d="M180.00,140.40L180.00,145.60M182.25,141.70L177.75,144.30M182.25,144.30L177.75,141.70M177.92,143.00L182.08,143.00" stroke="#f39a1c" stroke-width="0.9" fill="none"/>
<path d="M105.80,126.00L107.80,129.60L103.80,129.60Z" fill="#6a58e0"/>
<path d="M113.10,124.10L115.10,127.70L111.10,127.70Z" fill="#6a58e0"/>
<path d="M121.80,126.00L123.80,129.60L119.80,129.60Z" fill="#6a58e0"/>
<path d="M129.10,131.10L131.10,134.70L127.10,134.70Z" fill="#6a58e0"/>
<path d="M135.60,126.70L137.60,130.30L133.60,130.30Z" fill="#6a58e0"/>
<path d="M143.60,139.10L145.60,142.70L141.60,142.70Z" fill="#6a58e0"/>
<path d="M150.90,132.50L152.90,136.10L148.90,136.10Z" fill="#6a58e0"/>
<path d="M158.20,134.70L160.20,138.30L156.20,138.30Z" fill="#6a58e0"/>
<path d="M165.50,137.60L167.50,141.20L163.50,141.20Z" fill="#6a58e0"/>
<path d="M172.80,140.30L174.80,143.90L170.80,143.90Z" fill="#6a58e0"/>
<path d="M105.80,127.70L105.80,133.30M108.22,129.10L103.38,131.90M108.22,131.90L103.38,129.10M103.56,130.50L108.04,130.50" stroke="#ff4a12" stroke-width="1.2" fill="none"/>
<path d="M113.10,125.80L113.10,131.40M115.52,127.20L110.68,130.00M115.52,130.00L110.68,127.20M110.86,128.60L115.34,128.60" stroke="#ff4a12" stroke-width="1.2" fill="none"/>
<path d="M121.80,127.70L121.80,133.30M124.22,129.10L119.38,131.90M124.22,131.90L119.38,129.10M119.56,130.50L124.04,130.50" stroke="#ff4a12" stroke-width="1.2" fill="none"/>
<path d="M129.10,132.80L129.10,138.40M131.52,134.20L126.68,137.00M131.52,137.00L126.68,134.20M126.86,135.60L131.34,135.60" stroke="#ff4a12" stroke-width="1.2" fill="none"/>
<path d="M135.60,128.40L135.60,134.00M138.02,129.80L133.18,132.60M138.02,132.60L133.18,129.80M133.36,131.20L137.84,131.20" stroke="#ff4a12" stroke-width="1.2" fill="none"/>
<path d="M143.60,140.80L143.60,146.40M146.02,142.20L141.18,145.00M146.02,145.00L141.18,142.20M141.36,143.60L145.84,143.60" stroke="#ff4a12" stroke-width="1.2" fill="none"/>
<path d="M150.90,134.20L150.90,139.80M153.32,135.60L148.48,138.40M153.32,138.40L148.48,135.60M148.66,137.00L153.14,137.00" stroke="#ff4a12" stroke-width="1.2" fill="none"/>
<path d="M158.20,136.40L158.20,142.00M160.62,137.80L155.78,140.60M160.62,140.60L155.78,137.80M155.96,139.20L160.44,139.20" stroke="#ff4a12" stroke-width="1.2" fill="none"/>
<path d="M165.50,139.30L165.50,144.90M167.92,140.70L163.08,143.50M167.92,143.50L163.08,140.70M163.26,142.10L167.74,142.10" stroke="#ff4a12" stroke-width="1.2" fill="none"/>
<path d="M172.80,142.00L172.80,147.60M175.22,143.40L170.38,146.20M175.22,146.20L170.38,143.40M170.56,144.80L175.04,144.80" stroke="#ff4a12" stroke-width="1.2" fill="none"/>
</g>
<rect x="101.7" y="103.5" width="75.7" height="58.900000000000006" fill="none" stroke="#111" stroke-width="1.45"/>
<line x1="101.7" y1="127.5" x2="103.7" y2="127.5" stroke="#111" stroke-width="1"/>
<line x1="177.4" y1="127.5" x2="175.4" y2="127.5" stroke="#111" stroke-width="1"/>
<text x="0" y="0" font-size="9.99" text-anchor="end" fill="#1a1a1a" stroke="#1a1a1a" stroke-width="0.25" transform="translate(97.40,130.95) scale(0.95,1) rotate(0.05)">180</text>
<line x1="101.7" y1="157.5" x2="103.7" y2="157.5" stroke="#111" stroke-width="1"/>
<line x1="177.4" y1="157.5" x2="175.4" y2="157.5" stroke="#111" stroke-width="1"/>
<text x="0" y="0" font-size="9.99" text-anchor="end" fill="#1a1a1a" stroke="#1a1a1a" stroke-width="0.25" transform="translate(97.40,160.95) scale(0.95,1) rotate(0.05)">160</text>
<line x1="144.3" y1="162.4" x2="144.3" y2="160.4" stroke="#111" stroke-width="1"/>
<line x1="144.3" y1="103.5" x2="144.3" y2="105.5" stroke="#111" stroke-width="1"/>
<text x="0" y="0" font-size="9.99" text-anchor="middle" fill="#1a1a1a" stroke="#1a1a1a" stroke-width="0.25" transform="translate(144.30,176.60) scale(0.95,1) rotate(0.05)">15:15</text>
<rect x="396.3" y="102.5" width="75.7" height="58.8" fill="#fff"/>
<clipPath id="cb"><rect x="396.3" y="102.5" width="75.7" height="58.8"/></clipPath>
<g clip-path="url(#cb)">
<polyline points="414.50,99.00 421.00,107.00 428.50,116.50 431.00,120.00" fill="none" stroke="#e0601a" stroke-width="2.4" stroke-dasharray="5 2" stroke-linejoin="round"/>
<polyline points="426.87,100.00 430.52,108.00 434.40,116.00 438.56,124.00 443.77,132.00 447.66,140.00 452.37,148.00 456.50,156.00 459.80,164.00" fill="none" stroke="#666" stroke-width="2.2" stroke-dasharray="1.5 1.5" stroke-linejoin="round"/>
<polyline points="425.90,100.00 428.95,108.00 435.49,116.00 439.15,124.00 442.62,132.00 446.36,140.00 451.60,148.00 454.57,156.00 459.53,164.00" fill="none" stroke="#f03cf0" stroke-width="2.6" stroke-dasharray="1.5 1" stroke-linejoin="round"/>
<polyline points="429.45,100.00 433.30,108.00 437.21,116.00 442.32,124.00 445.38,132.00 450.42,140.00 454.20,148.00 458.24,156.00 463.28,164.00" fill="none" stroke="#4ce64c" stroke-width="2.2" stroke-linejoin="round"/>
<polyline points="427.40,100.00 433.27,108.00 435.90,116.00 441.57,124.00 443.84,132.00 448.99,140.00 452.03,148.00 456.07,156.00 461.10,164.00" fill="none" stroke="#3cc0f0" stroke-width="2.2" stroke-dasharray="1.5 1.5" stroke-linejoin="round"/>
<polyline points="421.00,100.00 424.00,107.60 427.30,112.70 433.60,124.20 439.40,134.40 447.00,148.40 453.40,159.80 455.00,163.00" fill="none" stroke="#f0a020" stroke-width="2.4" stroke-dasharray="2 1" stroke-linejoin="round"/>
<polyline points="430.41,100.00 433.24,108.00 438.71,116.00 441.52,124.00 446.08,132.00 450.23,140.00 454.36,148.00 456.92,156.00 462.97,164.00" fill="none" stroke="#6a6a2a" stroke-width="2.2" stroke-dasharray="3.5 1.3 1 1.3" stroke-linejoin="round"/>
<polyline points="426.84,100.00 430.43,108.00 434.26,116.00 438.05,124.00 442.43,132.00 447.76,140.00 451.42,148.00 455.13,156.00 459.68,164.00" fill="none" stroke="#e02cb0" stroke-width="2.6" stroke-dasharray="3.5 1.3 1 1.3" stroke-linejoin="round"/>
<polyline points="435.94,100.00 438.93,108.00 442.90,116.00 448.19,124.00 451.78,132.00 455.65,140.00 459.39,148.00 462.94,156.00 467.30,164.00" fill="none" stroke="#4a7cf0" stroke-width="2.6" stroke-dasharray="3.5 1.3 1 1.3" stroke-linejoin="round"/>
<polyline points="429.71,100.00 433.99,108.00 438.46,116.00 442.71,124.00 446.63,132.00 450.76,140.00 454.15,148.00 457.58,156.00 462.69,164.00" fill="none" stroke="#6a58e0" stroke-width="2.6" stroke-dasharray="3.5 1.3 1 1.3" stroke-linejoin="round"/>
<polyline points="431.02,100.00 435.49,108.00 439.99,116.00 443.82,124.00 448.19,132.00 453.01,140.00 457.43,148.00 461.36,156.00 466.25,164.00" fill="none" stroke="#ff4a12" stroke-width="3.2" stroke-dasharray="6 1.5 2 1.5" stroke-linejoin="round"/>
<path d="M424.00,105.00L424.00,110.20M426.25,106.30L421.75,108.90M426.25,108.90L421.75,106.30M421.92,107.60L426.08,107.60" stroke="#f39a1c" stroke-width="0.9" fill="none"/>
<path d="M427.30,110.10L427.30,115.30M429.55,111.40L425.05,114.00M429.55,114.00L425.05,111.40M425.22,112.70L429.38,112.70" stroke="#f39a1c" stroke-width="0.9" fill="none"/>
<path d="M433.60,121.60L433.60,126.80M435.85,122.90L431.35,125.50M435.85,125.50L431.35,122.90M431.52,124.20L435.68,124.20" stroke="#f39a1c" stroke-width="0.9" fill="none"/>
<path d="M439.40,131.80L439.40,137.00M441.65,133.10L437.15,135.70M441.65,135.70L437.15,133.10M437.32,134.40L441.48,134.40" stroke="#f39a1c" stroke-width="0.9" fill="none"/>
<path d="M447.00,145.80L447.00,151.00M449.25,147.10L444.75,149.70M449.25,149.70L444.75,147.10M444.92,148.40L449.08,148.40" stroke="#f39a1c" stroke-width="0.9" fill="none"/>
<path d="M453.40,157.20L453.40,162.40M455.65,158.50L451.15,161.10M455.65,161.10L451.15,158.50M451.32,159.80L455.48,159.80" stroke="#f39a1c" stroke-width="0.9" fill="none"/>
<path d="M435.49,105.40L435.49,110.60M437.74,106.70L433.23,109.30M437.74,109.30L433.23,106.70M433.41,108.00L437.57,108.00" stroke="#ff4a12" stroke-width="1.2" fill="none"/>
<path d="M439.99,113.40L439.99,118.60M442.24,114.70L437.74,117.30M442.24,117.30L437.74,114.70M437.91,116.00L442.07,116.00" stroke="#ff4a12" stroke-width="1.2" fill="none"/>
<path d="M443.82,121.40L443.82,126.60M446.07,122.70L441.56,125.30M446.07,125.30L441.56,122.70M441.74,124.00L445.90,124.00" stroke="#ff4a12" stroke-width="1.2" fill="none"/>
<path d="M448.19,129.40L448.19,134.60M450.45,130.70L445.94,133.30M450.45,133.30L445.94,130.70M446.11,132.00L450.27,132.00" stroke="#ff4a12" stroke-width="1.2" fill="none"/>
<path d="M453.01,137.40L453.01,142.60M455.26,138.70L450.76,141.30M455.26,141.30L450.76,138.70M450.93,140.00L455.09,140.00" stroke="#ff4a12" stroke-width="1.2" fill="none"/>
<path d="M457.43,145.40L457.43,150.60M459.68,146.70L455.18,149.30M459.68,149.30L455.18,146.70M455.35,148.00L459.51,148.00" stroke="#ff4a12" stroke-width="1.2" fill="none"/>
<path d="M461.36,153.40L461.36,158.60M463.61,154.70L459.11,157.30M463.61,157.30L459.11,154.70M459.28,156.00L463.44,156.00" stroke="#ff4a12" stroke-width="1.2" fill="none"/>
</g>
<rect x="396.3" y="102.5" width="75.69999999999999" height="58.80000000000001" fill="none" stroke="#111" stroke-width="1.45"/>
<line x1="396.3" y1="118.6" x2="398.3" y2="118.6" stroke="#111" stroke-width="1"/>
<line x1="472" y1="118.6" x2="470" y2="118.6" stroke="#111" stroke-width="1"/>
<text x="0" y="0" font-size="9.99" text-anchor="end" fill="#1a1a1a" stroke="#1a1a1a" stroke-width="0.25" transform="translate(392.00,122.05) scale(0.95,1) rotate(0.05)">140</text>
<line x1="396.3" y1="148.6" x2="398.3" y2="148.6" stroke="#111" stroke-width="1"/>
<line x1="472" y1="148.6" x2="470" y2="148.6" stroke="#111" stroke-width="1"/>
<text x="0" y="0" font-size="9.99" text-anchor="end" fill="#1a1a1a" stroke="#1a1a1a" stroke-width="0.25" transform="translate(392.00,152.05) scale(0.95,1) rotate(0.05)">120</text>
<line x1="412" y1="161.3" x2="412" y2="159.3" stroke="#111" stroke-width="1"/>
<line x1="412" y1="102.5" x2="412" y2="104.5" stroke="#111" stroke-width="1"/>
<text x="0" y="0" font-size="9.99" text-anchor="middle" fill="#1a1a1a" stroke="#1a1a1a" stroke-width="0.25" transform="translate(412.00,175.50) scale(0.95,1) rotate(0.05)">18:00</text>
<rect x="105.9" y="331.5" width="75.7" height="58.8" fill="#fff"/>
<clipPath id="cc"><rect x="105.9" y="331.5" width="75.7" height="58.8"/></clipPath>
<g clip-path="url(#cc)">
<polyline points="103.00,353.00 105.90,352.90 116.70,355.50 125.60,358.60 134.50,364.40 140.90,372.60 152.40,380.90 157.50,389.80 159.00,393.00" fill="none" stroke="#555" stroke-width="2.2" stroke-dasharray="1.5 1.5" stroke-linejoin="round"/>
<polyline points="103.00,351.50 105.90,351.40 116.70,354.00 125.60,357.10 134.50,362.90 140.90,371.10 152.40,379.40 157.50,388.30 159.00,391.50" fill="none" stroke="#f03cf0" stroke-width="2.4" stroke-dasharray="1.5 1" stroke-linejoin="round"/>
<polyline points="102.00,351.00 104.90,351.00 115.70,350.30 125.90,354.80 138.60,364.30 148.80,372.00 156.50,383.40 160.30,392.30 162.00,395.50" fill="none" stroke="#3cc0f0" stroke-width="2.4" stroke-dasharray="1.5 1" stroke-linejoin="round"/>
<polyline points="103.00,348.00 105.90,348.00 116.70,347.30 126.90,351.80 139.60,361.30 149.80,369.00 157.50,380.40 161.30,389.30 163.00,392.50" fill="none" stroke="#4ce64c" stroke-width="2.2" stroke-linejoin="round"/>
<polyline points="103.00,349.00 105.90,349.00 116.70,348.30 126.90,352.80 139.60,362.30 149.80,370.00 157.50,381.40 161.30,390.30 163.00,393.50" fill="none" stroke="#f0a020" stroke-width="2.4" stroke-dasharray="2 1" stroke-linejoin="round"/>
<polyline points="103.00,338.30 105.90,338.70 116.70,342.10 129.50,349.70 137.10,357.40 147.30,365.00 157.50,377.10 165.10,389.80 167.00,393.00" fill="none" stroke="#4e5a1c" stroke-width="3.0" stroke-dasharray="6 2 1.5 2" stroke-linejoin="round"/>
<polyline points="103.00,350.50 105.90,350.40 116.70,353.00 125.60,356.10 134.50,361.90 140.90,370.10 152.40,378.40 157.50,387.30 159.00,390.50" fill="none" stroke="#e02cb0" stroke-width="2.6" stroke-dasharray="3.5 1.3 1 1.3" stroke-linejoin="round"/>
<polyline points="103.00,350.00 105.90,350.00 116.70,349.30 126.90,353.80 139.60,363.30 149.80,371.00 157.50,382.40 161.30,391.30 163.00,394.50" fill="none" stroke="#4a7cf0" stroke-width="2.6" stroke-dasharray="3.5 1.3 1 1.3" stroke-linejoin="round"/>
<polyline points="103.00,342.50 105.90,342.70 116.70,344.00 132.00,352.90 147.30,366.30 157.50,379.50 163.00,390.00 165.00,393.00" fill="none" stroke="#6a58e0" stroke-width="2.6" stroke-dasharray="3.5 1.3 1 1.3" stroke-linejoin="round"/>
<polyline points="103.00,348.50 105.90,348.50 116.70,347.80 126.90,352.30 139.60,361.80 149.80,369.50 157.50,380.90 161.30,389.80 163.00,393.00" fill="none" stroke="#ff4a12" stroke-width="3.4" stroke-dasharray="6 1.5 2 1.5" stroke-linejoin="round"/>
<path d="M112.00,341.43L114.00,345.03L110.00,345.03Z" fill="#6a58e0"/>
<path d="M121.00,344.50L123.00,348.10L119.00,348.10Z" fill="#6a58e0"/>
<path d="M130.00,349.74L132.00,353.34L128.00,353.34Z" fill="#6a58e0"/>
<path d="M139.00,357.03L141.00,360.63L137.00,360.63Z" fill="#6a58e0"/>
<path d="M148.00,365.21L150.00,368.81L146.00,368.81Z" fill="#6a58e0"/>
<path d="M157.00,376.85L159.00,380.45L155.00,380.45Z" fill="#6a58e0"/>
<path d="M111.00,345.47L111.00,350.87M113.34,346.82L108.66,349.52M113.34,349.52L108.66,346.82M108.84,348.17L113.16,348.17" stroke="#ff4a12" stroke-width="1.2" fill="none"/>
<path d="M119.00,346.11L119.00,351.51M121.34,347.46L116.66,350.16M121.34,350.16L116.66,347.46M116.84,348.81L121.16,348.81" stroke="#ff4a12" stroke-width="1.2" fill="none"/>
<path d="M127.00,349.67L127.00,355.07M129.34,351.02L124.66,353.72M129.34,353.72L124.66,351.02M124.84,352.37L129.16,352.37" stroke="#ff4a12" stroke-width="1.2" fill="none"/>
<path d="M135.00,355.66L135.00,361.06M137.34,357.01L132.66,359.71M137.34,359.71L132.66,357.01M132.84,358.36L137.16,358.36" stroke="#ff4a12" stroke-width="1.2" fill="none"/>
<path d="M143.00,361.67L143.00,367.07M145.34,363.02L140.66,365.72M145.34,365.72L140.66,363.02M140.84,364.37L145.16,364.37" stroke="#ff4a12" stroke-width="1.2" fill="none"/>
<path d="M151.00,368.58L151.00,373.98M153.34,369.93L148.66,372.63M153.34,372.63L148.66,369.93M148.84,371.28L153.16,371.28" stroke="#ff4a12" stroke-width="1.2" fill="none"/>
<path d="M159.00,381.71L159.00,387.11M161.34,383.06L156.66,385.76M161.34,385.76L156.66,383.06M156.84,384.41L161.16,384.41" stroke="#ff4a12" stroke-width="1.2" fill="none"/>
<circle cx="107.00" cy="353.16" r="0.9" fill="#555"/>
<circle cx="111.00" cy="354.13" r="0.9" fill="#555"/>
<circle cx="115.00" cy="355.09" r="0.9" fill="#555"/>
<circle cx="119.00" cy="356.30" r="0.9" fill="#555"/>
<circle cx="123.00" cy="357.69" r="0.9" fill="#555"/>
<circle cx="127.00" cy="359.51" r="0.9" fill="#555"/>
<circle cx="131.00" cy="362.12" r="0.9" fill="#555"/>
<circle cx="135.00" cy="365.04" r="0.9" fill="#555"/>
<circle cx="139.00" cy="370.17" r="0.9" fill="#555"/>
<circle cx="143.00" cy="374.12" r="0.9" fill="#555"/>
<circle cx="147.00" cy="377.00" r="0.9" fill="#555"/>
<circle cx="151.00" cy="379.89" r="0.9" fill="#555"/>
<circle cx="155.00" cy="385.44" r="0.9" fill="#555"/>
<circle cx="159.00" cy="393.00" r="0.9" fill="#555"/>
</g>
<rect x="105.9" y="331.5" width="75.69999999999999" height="58.80000000000001" fill="none" stroke="#111" stroke-width="1.45"/>
<line x1="105.9" y1="346.6" x2="107.9" y2="346.6" stroke="#111" stroke-width="1"/>
<line x1="181.6" y1="346.6" x2="179.6" y2="346.6" stroke="#111" stroke-width="1"/>
<text x="0" y="0" font-size="9.99" text-anchor="end" fill="#1a1a1a" stroke="#1a1a1a" stroke-width="0.25" transform="translate(101.60,350.05) scale(0.95,1) rotate(0.05)">180</text>
<line x1="105.9" y1="377" x2="107.9" y2="377" stroke="#111" stroke-width="1"/>
<line x1="181.6" y1="377" x2="179.6" y2="377" stroke="#111" stroke-width="1"/>
<text x="0" y="0" font-size="9.99" text-anchor="end" fill="#1a1a1a" stroke="#1a1a1a" stroke-width="0.25" transform="translate(101.60,380.45) scale(0.95,1) rotate(0.05)">160</text>
<line x1="163" y1="390.3" x2="163" y2="388.3" stroke="#111" stroke-width="1"/>
<line x1="163" y1="331.5" x2="163" y2="333.5" stroke="#111" stroke-width="1"/>
<text x="0" y="0" font-size="9.99" text-anchor="middle" fill="#1a1a1a" stroke="#1a1a1a" stroke-width="0.25" transform="translate(163.00,404.50) scale(0.95,1) rotate(0.05)">18:00</text>
<rect x="395" y="333.6" width="76.3" height="57.7" fill="#fff"/>
<clipPath id="cd"><rect x="395" y="333.6" width="76.3" height="57.7"/></clipPath>
<g clip-path="url(#cd)">
<polyline points="393.00,368.50 395.00,367.40 407.50,363.80 422.10,361.60 441.00,363.00 452.60,364.50 458.50,373.20 470.10,374.70 474.00,375.00" fill="none" stroke="#4ce64c" stroke-width="2.2" stroke-linejoin="round"/>
<polyline points="393.00,353.00 395.00,352.40 407.50,348.00 422.10,345.80 436.60,347.30 451.20,351.60 457.00,359.60 468.60,361.80 474.00,362.00" fill="none" stroke="#e0541c" stroke-width="2.6" stroke-dasharray="6 2.5 2 2.5" stroke-linejoin="round"/>
<polyline points="393.00,372.00 395.00,371.00 407.50,368.40 422.10,370.50 441.00,370.50 451.20,374.20 458.50,377.80 470.10,378.50 474.00,378.50" fill="none" stroke="#666" stroke-width="2.0" stroke-dasharray="1.5 1.5" stroke-linejoin="round"/>
<polyline points="393.00,369.50 395.00,368.40 407.50,364.80 422.10,362.60 441.00,364.00 452.60,365.50 458.50,374.20 470.10,375.70 474.00,376.00" fill="none" stroke="#f03cf0" stroke-width="2.4" stroke-dasharray="1.5 1" stroke-linejoin="round"/>
<polyline points="393.00,371.00 395.00,369.90 407.50,366.30 422.10,364.10 441.00,365.50 452.60,367.00 458.50,375.70 470.10,377.20 474.00,377.50" fill="none" stroke="#3cc0f0" stroke-width="2.4" stroke-dasharray="1.5 1" stroke-linejoin="round"/>
<polyline points="393.00,375.00 395.00,373.50 401.70,369.50 410.00,366.00 422.10,364.00 441.00,365.00 452.60,366.50 458.50,370.10 470.10,370.80 474.00,371.00" fill="none" stroke="#f0a020" stroke-width="2.2" stroke-dasharray="2 1" stroke-linejoin="round"/>
<polyline points="393.00,374.00 395.00,372.50 401.70,368.50 410.00,365.00 422.10,363.00 441.00,364.00 452.60,365.50 458.50,369.10 470.10,369.80 474.00,370.00" fill="none" stroke="#6a6a2a" stroke-width="2.2" stroke-dasharray="3.5 1.3 1 1.3" stroke-linejoin="round"/>
<polyline points="393.00,375.00 395.00,373.50 401.70,369.50 410.00,366.00 422.10,364.00 441.00,365.00 452.60,366.50 458.50,370.10 470.10,370.80 474.00,371.00" fill="none" stroke="#e02cb0" stroke-width="2.4" stroke-dasharray="3.5 1.3 1 1.3" stroke-linejoin="round"/>
<polyline points="393.00,364.00 395.00,363.30 407.50,354.50 422.10,350.20 441.00,352.40 452.60,354.50 458.50,361.10 470.10,364.70 474.00,365.50" fill="none" stroke="#4a7cf0" stroke-width="2.6" stroke-dasharray="5 1.5 1.5 1.5" stroke-linejoin="round"/>
<polyline points="393.00,368.50 395.00,367.40 407.50,363.80 422.10,361.60 441.00,363.00 452.60,364.50 458.50,373.20 470.10,374.70 474.00,375.00" fill="none" stroke="#6a58e0" stroke-width="2.6" stroke-dasharray="3.5 1.3 1 1.3" stroke-linejoin="round"/>
<polyline points="393.00,368.00 395.00,366.90 407.50,363.30 422.10,361.10 441.00,362.50 452.60,364.00 458.50,372.70 470.10,374.20 474.00,374.50" fill="none" stroke="#ff4a12" stroke-width="3.4" stroke-dasharray="6 1.5 2 1.5" stroke-linejoin="round"/>
<circle cx="397.00" cy="370.58" r="0.9" fill="#555"/>
<circle cx="401.00" cy="369.75" r="0.9" fill="#555"/>
<circle cx="405.00" cy="368.92" r="0.9" fill="#555"/>
<circle cx="409.00" cy="368.62" r="0.9" fill="#555"/>
<circle cx="413.00" cy="369.19" r="0.9" fill="#555"/>
<circle cx="417.00" cy="369.77" r="0.9" fill="#555"/>
<circle cx="421.00" cy="370.34" r="0.9" fill="#555"/>
<circle cx="425.00" cy="370.50" r="0.9" fill="#555"/>
<circle cx="429.00" cy="370.50" r="0.9" fill="#555"/>
<circle cx="433.00" cy="370.50" r="0.9" fill="#555"/>
<circle cx="437.00" cy="370.50" r="0.9" fill="#555"/>
<circle cx="441.00" cy="370.50" r="0.9" fill="#555"/>
<circle cx="445.00" cy="371.95" r="0.9" fill="#555"/>
<circle cx="449.00" cy="373.40" r="0.9" fill="#555"/>
<circle cx="453.00" cy="375.09" r="0.9" fill="#555"/>
<circle cx="457.00" cy="377.06" r="0.9" fill="#555"/>
<circle cx="461.00" cy="377.95" r="0.9" fill="#555"/>
<circle cx="465.00" cy="378.19" r="0.9" fill="#555"/>
<circle cx="469.00" cy="378.43" r="0.9" fill="#555"/>
<circle cx="473.00" cy="378.50" r="0.9" fill="#555"/>
<path d="M399.00,362.28L400.80,359.04L397.20,359.04Z" fill="#3a6cf0"/>
<path d="M405.00,358.06L406.80,354.82L403.20,354.82Z" fill="#3a6cf0"/>
<path d="M411.00,355.27L412.80,352.03L409.20,352.03Z" fill="#3a6cf0"/>
<path d="M417.00,353.50L418.80,350.26L415.20,350.26Z" fill="#3a6cf0"/>
<path d="M423.00,352.10L424.80,348.86L421.20,348.86Z" fill="#3a6cf0"/>
<path d="M429.00,352.80L430.80,349.56L427.20,349.56Z" fill="#3a6cf0"/>
<path d="M435.00,353.50L436.80,350.26L433.20,350.26Z" fill="#3a6cf0"/>
<path d="M441.00,354.20L442.80,350.96L439.20,350.96Z" fill="#3a6cf0"/>
<path d="M447.00,355.29L448.80,352.05L445.20,352.05Z" fill="#3a6cf0"/>
<path d="M453.00,356.75L454.80,353.51L451.20,353.51Z" fill="#3a6cf0"/>
<path d="M459.00,363.06L460.80,359.82L457.20,359.82Z" fill="#3a6cf0"/>
<path d="M465.00,364.92L466.80,361.68L463.20,361.68Z" fill="#3a6cf0"/>
<path d="M471.00,366.68L472.80,363.44L469.20,363.44Z" fill="#3a6cf0"/>
<path d="M400.00,362.76L400.00,368.16M402.34,364.11L397.66,366.81M402.34,366.81L397.66,364.11M397.84,365.46L402.16,365.46" stroke="#ff4a12" stroke-width="1.2" fill="none"/>
<path d="M407.00,360.74L407.00,366.14M409.34,362.09L404.66,364.79M409.34,364.79L404.66,362.09M404.84,363.44L409.16,363.44" stroke="#ff4a12" stroke-width="1.2" fill="none"/>
<path d="M414.00,359.62L414.00,365.02M416.34,360.97L411.66,363.67M416.34,363.67L411.66,360.97M411.84,362.32L416.16,362.32" stroke="#ff4a12" stroke-width="1.2" fill="none"/>
<path d="M421.00,358.57L421.00,363.97M423.34,359.92L418.66,362.62M423.34,362.62L418.66,359.92M418.84,361.27L423.16,361.27" stroke="#ff4a12" stroke-width="1.2" fill="none"/>
<path d="M428.00,358.84L428.00,364.24M430.34,360.19L425.66,362.89M430.34,362.89L425.66,360.19M425.84,361.54L430.16,361.54" stroke="#ff4a12" stroke-width="1.2" fill="none"/>
<path d="M435.00,359.36L435.00,364.76M437.34,360.71L432.66,363.41M437.34,363.41L432.66,360.71M432.84,362.06L437.16,362.06" stroke="#ff4a12" stroke-width="1.2" fill="none"/>
<path d="M442.00,359.93L442.00,365.33M444.34,361.28L439.66,363.98M444.34,363.98L439.66,361.28M439.84,362.63L444.16,362.63" stroke="#ff4a12" stroke-width="1.2" fill="none"/>
<path d="M449.00,360.83L449.00,366.23M451.34,362.18L446.66,364.88M451.34,364.88L446.66,362.18M446.84,363.53L451.16,363.53" stroke="#ff4a12" stroke-width="1.2" fill="none"/>
<path d="M456.00,366.31L456.00,371.71M458.34,367.66L453.66,370.36M458.34,370.36L453.66,367.66M453.84,369.01L458.16,369.01" stroke="#ff4a12" stroke-width="1.2" fill="none"/>
<path d="M463.00,370.58L463.00,375.98M465.34,371.93L460.66,374.63M465.34,374.63L460.66,371.93M460.84,373.28L465.16,373.28" stroke="#ff4a12" stroke-width="1.2" fill="none"/>
<path d="M470.00,371.49L470.00,376.89M472.34,372.84L467.66,375.54M472.34,375.54L467.66,372.84M467.84,374.19L472.16,374.19" stroke="#ff4a12" stroke-width="1.2" fill="none"/>
<path d="M406.10,356.70L406.10,361.10M408.01,357.80L404.19,360.00M408.01,360.00L404.19,357.80M404.34,358.90L407.86,358.90" stroke="#f020f0" stroke-width="1.2" fill="none"/>
<path d="M451.20,356.70L451.20,361.10M453.11,357.80L449.29,360.00M453.11,360.00L449.29,357.80M449.44,358.90L452.96,358.90" stroke="#f020f0" stroke-width="1.2" fill="none"/>
<path d="M398.00,373.40L398.00,378.60M400.25,374.70L395.75,377.30M400.25,377.30L395.75,374.70M395.92,376.00L400.08,376.00" stroke="#f39a1c" stroke-width="0.9" fill="none"/>
</g>
<rect x="395" y="333.6" width="76.30000000000001" height="57.69999999999999" fill="none" stroke="#111" stroke-width="1.45"/>
<line x1="395" y1="347" x2="397" y2="347" stroke="#111" stroke-width="1"/>
<line x1="471.3" y1="347" x2="469.3" y2="347" stroke="#111" stroke-width="1"/>
<text x="0" y="0" font-size="9.99" text-anchor="end" fill="#1a1a1a" stroke="#1a1a1a" stroke-width="0.25" transform="translate(390.70,350.45) scale(0.95,1) rotate(0.05)">180</text>
<line x1="395" y1="377.4" x2="397" y2="377.4" stroke="#111" stroke-width="1"/>
<line x1="471.3" y1="377.4" x2="469.3" y2="377.4" stroke="#111" stroke-width="1"/>
<text x="0" y="0" font-size="9.99" text-anchor="end" fill="#1a1a1a" stroke="#1a1a1a" stroke-width="0.25" transform="translate(390.70,380.85) scale(0.95,1) rotate(0.05)">160</text>
<line x1="444" y1="391.3" x2="444" y2="389.3" stroke="#111" stroke-width="1"/>
<line x1="444" y1="333.6" x2="444" y2="335.6" stroke="#111" stroke-width="1"/>
<text x="0" y="0" font-size="9.99" text-anchor="middle" fill="#1a1a1a" stroke="#1a1a1a" stroke-width="0.25" transform="translate(444.00,405.50) scale(0.95,1) rotate(0.05)">15:15</text>
<rect x="49.5" y="467.6" width="485" height="33.6" fill="#fff" stroke="#555" stroke-width="1"/>
<polyline points="52.20,476.90 80.90,476.90" fill="none" stroke="#4ce64c" stroke-width="1.5" stroke-linejoin="round"/>
<text x="0" y="0" font-size="11" fill="#111" stroke="#111" stroke-width="0.25" transform="translate(83.5,480.9) scale(1.065,1)">Actual power</text>
<polyline points="156.20,476.90 185.20,476.90" fill="none" stroke="#ec6a30" stroke-width="1.0" stroke-dasharray="6 3.5" stroke-linejoin="round"/>
<text x="0" y="0" font-size="11" fill="#111" stroke="#111" stroke-width="0.25" transform="translate(187.29999999999998,480.9) scale(1.065,1)">BP</text>
<polyline points="227.60,476.90 256.50,476.90" fill="none" stroke="#8a8a8a" stroke-width="1.0" stroke-dasharray="0.9 1.3" stroke-linejoin="round"/>
<circle cx="242.05" cy="476.9" r="1.1" fill="#8a8a8a"/>
<text x="0" y="0" font-size="11" fill="#111" stroke="#111" stroke-width="0.25" transform="translate(258.9,480.9) scale(1.065,1)">XGBoost</text>
<polyline points="311.80,476.90 340.60,476.90" fill="none" stroke="#f03cf0" stroke-width="1.0" stroke-dasharray="0.9 1.3" stroke-linejoin="round"/>
<circle cx="326.20" cy="476.9" r="1.1" fill="#f03cf0"/>
<text x="0" y="0" font-size="11" fill="#111" stroke="#111" stroke-width="0.25" transform="translate(343.5,480.9) scale(1.065,1)">RF</text>
<polyline points="376.70,476.90 406.00,476.90" fill="none" stroke="#3cc0f0" stroke-width="1.0" stroke-dasharray="0.9 1.3" stroke-linejoin="round"/>
<circle cx="391.35" cy="476.9" r="1.1" fill="#3cc0f0"/>
<text x="0" y="0" font-size="11" fill="#111" stroke="#111" stroke-width="0.25" transform="translate(407.9,480.9) scale(1.065,1)">CatBoost</text>
<polyline points="468.20,476.90 497.60,476.90" fill="none" stroke="#f0a020" stroke-width="1.0" stroke-dasharray="0.9 1.3" stroke-linejoin="round"/>
<circle cx="482.90" cy="476.9" r="1.1" fill="#f0a020"/>
<text x="0" y="0" font-size="11" fill="#111" stroke="#111" stroke-width="0.25" transform="translate(500.59999999999997,480.9) scale(1.065,1)">LSTM</text>
<polyline points="52.20,492.50 80.90,492.50" fill="none" stroke="#6a6a2a" stroke-width="1.0" stroke-dasharray="5.5 1.6 1 1.6" stroke-linejoin="round"/>
<circle cx="66.55" cy="492.5" r="1.1" fill="#6a6a2a"/>
<text x="0" y="0" font-size="11" fill="#111" stroke="#111" stroke-width="0.25" transform="translate(83.5,496.5) scale(1.065,1)">R-XGBL</text>
<polyline points="156.20,492.50 185.20,492.50" fill="none" stroke="#e02cb0" stroke-width="1.0" stroke-dasharray="5.5 1.6 1 1.6" stroke-linejoin="round"/>
<circle cx="170.70" cy="492.5" r="1.1" fill="#e02cb0"/>
<text x="0" y="0" font-size="11" fill="#111" stroke="#111" stroke-width="0.25" transform="translate(187.29999999999998,496.5) scale(1.065,1)">R-RFL</text>
<polyline points="227.60,492.50 256.50,492.50" fill="none" stroke="#4a7cf0" stroke-width="1.0" stroke-dasharray="5.5 1.6 1 1.6" stroke-linejoin="round"/>
<circle cx="242.05" cy="492.5" r="1.1" fill="#4a7cf0"/>
<text x="0" y="0" font-size="11" fill="#111" stroke="#111" stroke-width="0.25" transform="translate(258.9,496.5) scale(1.065,1)">R-CatBL</text>
<polyline points="311.80,492.50 340.60,492.50" fill="none" stroke="#6a58e0" stroke-width="1.0" stroke-dasharray="5.5 1.6 1 1.6" stroke-linejoin="round"/>
<circle cx="326.20" cy="492.5" r="1.1" fill="#6a58e0"/>
<text x="0" y="0" font-size="11" fill="#111" stroke="#111" stroke-width="0.25" transform="translate(343.5,496.5) scale(1.065,1)">TLEL</text>
<polyline points="376.70,492.50 406.00,492.50" fill="none" stroke="#ff4a12" stroke-width="1.0" stroke-dasharray="5.5 1.6 1 1.6" stroke-linejoin="round"/>
<circle cx="391.35" cy="492.5" r="1.1" fill="#ff4a12"/>
<text x="0" y="0" font-size="11" fill="#111" stroke="#111" stroke-width="0.25" transform="translate(407.9,496.5) scale(1.065,1)">FRD-TLEL</text>
</svg></body></html>
